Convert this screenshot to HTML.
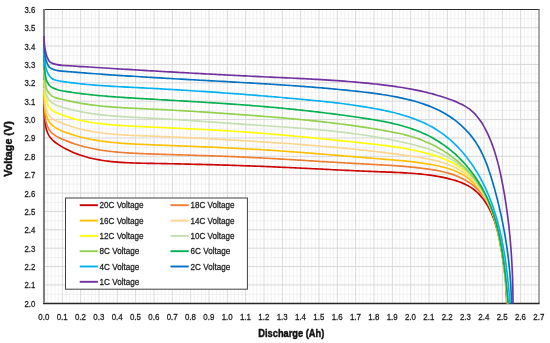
<!DOCTYPE html><html><head><meta charset="utf-8"><style>html,body{margin:0;padding:0;background:#fff;width:550px;height:343px;overflow:hidden}svg{display:block}text{font-family:"Liberation Sans", Arial, sans-serif;fill:#1c1c1c}text.l{stroke:#1c1c1c;stroke-width:0.3px}text.b{stroke:#111;stroke-width:0.45px;fill:#111}</style></head><body>
<svg width="550" height="343" viewBox="0 0 550 343">
<rect width="550" height="343" fill="#fff"/>
<path d="M47.67,9.50V303.50M51.33,9.50V303.50M55.00,9.50V303.50M58.67,9.50V303.50M66.00,9.50V303.50M69.67,9.50V303.50M73.33,9.50V303.50M77.00,9.50V303.50M84.33,9.50V303.50M88.00,9.50V303.50M91.67,9.50V303.50M95.33,9.50V303.50M102.67,9.50V303.50M106.33,9.50V303.50M110.00,9.50V303.50M113.67,9.50V303.50M121.00,9.50V303.50M124.67,9.50V303.50M128.33,9.50V303.50M132.00,9.50V303.50M139.33,9.50V303.50M143.00,9.50V303.50M146.67,9.50V303.50M150.33,9.50V303.50M157.67,9.50V303.50M161.33,9.50V303.50M165.00,9.50V303.50M168.67,9.50V303.50M176.00,9.50V303.50M179.67,9.50V303.50M183.33,9.50V303.50M187.00,9.50V303.50M194.33,9.50V303.50M198.00,9.50V303.50M201.67,9.50V303.50M205.33,9.50V303.50M212.67,9.50V303.50M216.33,9.50V303.50M220.00,9.50V303.50M223.67,9.50V303.50M231.00,9.50V303.50M234.67,9.50V303.50M238.33,9.50V303.50M242.00,9.50V303.50M249.33,9.50V303.50M253.00,9.50V303.50M256.67,9.50V303.50M260.33,9.50V303.50M267.67,9.50V303.50M271.33,9.50V303.50M275.00,9.50V303.50M278.67,9.50V303.50M286.00,9.50V303.50M289.67,9.50V303.50M293.33,9.50V303.50M297.00,9.50V303.50M304.33,9.50V303.50M308.00,9.50V303.50M311.67,9.50V303.50M315.33,9.50V303.50M322.67,9.50V303.50M326.33,9.50V303.50M330.00,9.50V303.50M333.67,9.50V303.50M341.00,9.50V303.50M344.67,9.50V303.50M348.33,9.50V303.50M352.00,9.50V303.50M359.33,9.50V303.50M363.00,9.50V303.50M366.67,9.50V303.50M370.33,9.50V303.50M377.67,9.50V303.50M381.33,9.50V303.50M385.00,9.50V303.50M388.67,9.50V303.50M396.00,9.50V303.50M399.67,9.50V303.50M403.33,9.50V303.50M407.00,9.50V303.50M414.33,9.50V303.50M418.00,9.50V303.50M421.67,9.50V303.50M425.33,9.50V303.50M432.67,9.50V303.50M436.33,9.50V303.50M440.00,9.50V303.50M443.67,9.50V303.50M451.00,9.50V303.50M454.67,9.50V303.50M458.33,9.50V303.50M462.00,9.50V303.50M469.33,9.50V303.50M473.00,9.50V303.50M476.67,9.50V303.50M480.33,9.50V303.50M487.67,9.50V303.50M491.33,9.50V303.50M495.00,9.50V303.50M498.67,9.50V303.50M506.00,9.50V303.50M509.67,9.50V303.50M513.33,9.50V303.50M517.00,9.50V303.50M524.33,9.50V303.50M528.00,9.50V303.50M531.67,9.50V303.50M535.33,9.50V303.50M44.00,18.69H539.00M44.00,37.06H539.00M44.00,55.44H539.00M44.00,73.81H539.00M44.00,92.19H539.00M44.00,110.56H539.00M44.00,128.94H539.00M44.00,147.31H539.00M44.00,165.69H539.00M44.00,184.06H539.00M44.00,202.44H539.00M44.00,220.81H539.00M44.00,239.19H539.00M44.00,257.56H539.00M44.00,275.94H539.00M44.00,294.31H539.00" stroke="#F1F1F1" stroke-width="1" fill="none"/>
<path d="M62.33,9.50V303.50M80.67,9.50V303.50M99.00,9.50V303.50M117.33,9.50V303.50M135.67,9.50V303.50M154.00,9.50V303.50M172.33,9.50V303.50M190.67,9.50V303.50M209.00,9.50V303.50M227.33,9.50V303.50M245.67,9.50V303.50M264.00,9.50V303.50M282.33,9.50V303.50M300.67,9.50V303.50M319.00,9.50V303.50M337.33,9.50V303.50M355.67,9.50V303.50M374.00,9.50V303.50M392.33,9.50V303.50M410.67,9.50V303.50M429.00,9.50V303.50M447.33,9.50V303.50M465.67,9.50V303.50M484.00,9.50V303.50M502.33,9.50V303.50M520.67,9.50V303.50M44.00,27.68H539.00M44.00,46.05H539.00M44.00,64.42H539.00M44.00,82.80H539.00M44.00,101.17H539.00M44.00,119.55H539.00M44.00,137.93H539.00M44.00,156.30H539.00M44.00,174.68H539.00M44.00,193.05H539.00M44.00,211.43H539.00M44.00,229.80H539.00M44.00,248.18H539.00M44.00,266.55H539.00M44.00,284.93H539.00" stroke="#D8D8D8" stroke-width="1" fill="none"/>
<path d="M44.00,9.50H539.60" stroke="#303030" stroke-width="1.2" fill="none"/>
<path d="M539.00,9.50V303.50" stroke="#7a7a7a" stroke-width="1.3" fill="none"/>
<path d="M43.00,303.50H539.60" stroke="#262626" stroke-width="1.6" fill="none"/>
<path d="M44.00,8.90V302.70" stroke="#808080" stroke-width="2.1" fill="none"/>
<path d="M44.00,104.00 C44.07,105.33 44.25,109.50 44.40,112.00 C44.55,114.50 44.72,116.83 44.90,119.00 C45.08,121.17 45.23,123.20 45.50,125.00 C45.77,126.80 46.10,128.38 46.50,129.80 C46.90,131.22 47.38,132.37 47.90,133.50 C48.42,134.63 48.95,135.65 49.60,136.60 C50.25,137.55 51.03,138.38 51.80,139.20 C52.57,140.02 53.33,140.77 54.20,141.50 C55.07,142.23 56.03,142.92 57.00,143.60 C57.97,144.28 59.00,144.97 60.00,145.60 C61.00,146.23 61.99,146.81 63.00,147.38 C64.00,147.96 65.02,148.51 66.03,149.04 C67.05,149.57 68.07,150.08 69.10,150.57 C70.13,151.06 71.16,151.53 72.20,151.98 C73.24,152.44 74.28,152.87 75.33,153.28 C76.38,153.70 77.43,154.10 78.49,154.48 C79.55,154.86 80.61,155.22 81.68,155.57 C82.75,155.92 83.82,156.25 84.89,156.56 C85.97,156.88 87.05,157.18 88.13,157.46 C89.22,157.75 90.30,158.02 91.39,158.28 C92.48,158.53 93.58,158.78 94.68,159.01 C95.78,159.24 96.88,159.45 97.98,159.66 C99.09,159.86 100.19,160.05 101.31,160.23 C102.42,160.41 103.53,160.58 104.65,160.74 C105.76,160.90 106.88,161.05 108.00,161.19 C109.12,161.33 110.25,161.45 111.37,161.57 C112.50,161.69 113.63,161.80 114.76,161.91 C115.89,162.01 117.02,162.10 118.16,162.19 C119.29,162.28 120.43,162.36 121.56,162.43 C122.70,162.50 123.84,162.57 124.98,162.63 C126.12,162.69 127.26,162.74 128.40,162.79 C129.55,162.84 130.69,162.89 131.83,162.93 C132.98,162.97 134.12,163.01 135.27,163.04 C136.41,163.08 137.56,163.11 138.70,163.13 C139.85,163.16 141.00,163.19 142.14,163.21 C143.29,163.24 144.44,163.26 145.58,163.28 C146.73,163.30 147.87,163.32 149.02,163.34 C150.17,163.36 151.31,163.38 152.46,163.40 C153.60,163.42 154.74,163.44 155.89,163.46 C157.03,163.49 158.17,163.51 159.32,163.53 C160.46,163.55 161.60,163.57 162.74,163.59 C163.89,163.62 165.03,163.64 166.17,163.66 C167.31,163.68 168.45,163.70 169.59,163.73 C170.73,163.75 171.87,163.77 173.01,163.80 C174.15,163.82 175.29,163.84 176.43,163.87 C177.57,163.89 178.71,163.92 179.84,163.94 C180.98,163.97 182.12,163.99 183.26,164.02 C184.39,164.04 185.53,164.07 186.67,164.09 C187.80,164.12 188.94,164.14 190.08,164.17 C191.21,164.20 192.35,164.22 193.48,164.25 C194.62,164.28 195.76,164.31 196.89,164.33 C198.03,164.36 199.16,164.39 200.30,164.42 C201.43,164.45 202.56,164.47 203.70,164.50 C204.83,164.53 205.97,164.56 207.10,164.59 C208.23,164.62 209.37,164.65 210.50,164.68 C211.64,164.71 212.77,164.74 213.90,164.78 C215.04,164.81 216.17,164.84 217.30,164.87 C218.43,164.90 219.57,164.94 220.70,164.97 C221.83,165.00 222.96,165.04 224.10,165.07 C225.23,165.10 226.36,165.14 227.49,165.17 C228.63,165.21 229.76,165.24 230.89,165.28 C232.02,165.32 233.16,165.35 234.29,165.39 C235.42,165.42 236.55,165.46 237.68,165.50 C238.82,165.54 239.95,165.58 241.08,165.61 C242.21,165.65 243.34,165.69 244.48,165.73 C245.61,165.77 246.74,165.81 247.87,165.85 C249.00,165.89 250.14,165.93 251.27,165.97 C252.40,166.02 253.53,166.06 254.66,166.10 C255.80,166.14 256.93,166.19 258.06,166.23 C259.19,166.27 260.33,166.32 261.46,166.36 C262.59,166.41 263.73,166.45 264.86,166.50 C265.99,166.55 267.12,166.59 268.26,166.64 C269.39,166.69 270.52,166.74 271.66,166.78 C272.79,166.83 273.93,166.88 275.06,166.93 C276.19,166.98 277.33,167.03 278.46,167.08 C279.60,167.13 280.73,167.18 281.86,167.23 C283.00,167.28 284.13,167.34 285.27,167.39 C286.40,167.44 287.54,167.49 288.67,167.55 C289.81,167.60 290.94,167.65 292.08,167.71 C293.21,167.76 294.35,167.81 295.48,167.87 C296.62,167.92 297.75,167.98 298.89,168.03 C300.03,168.09 301.16,168.14 302.30,168.20 C303.43,168.25 304.57,168.31 305.70,168.36 C306.84,168.42 307.98,168.47 309.11,168.53 C310.25,168.59 311.38,168.64 312.52,168.70 C313.66,168.75 314.79,168.81 315.93,168.87 C317.06,168.92 318.20,168.98 319.34,169.03 C320.47,169.09 321.61,169.15 322.75,169.20 C323.88,169.26 325.02,169.31 326.15,169.37 C327.29,169.43 328.43,169.48 329.56,169.54 C330.70,169.59 331.84,169.65 332.97,169.70 C334.11,169.76 335.24,169.82 336.38,169.87 C337.52,169.93 338.65,169.98 339.79,170.03 C340.92,170.09 342.06,170.14 343.20,170.20 C344.33,170.25 345.47,170.30 346.61,170.36 C347.74,170.41 348.88,170.46 350.01,170.52 C351.15,170.57 352.29,170.62 353.42,170.67 C354.56,170.73 355.69,170.78 356.83,170.83 C357.96,170.88 359.10,170.93 360.23,170.98 C361.37,171.03 362.51,171.08 363.64,171.13 C364.78,171.18 365.91,171.22 367.05,171.27 C368.18,171.32 369.32,171.37 370.45,171.41 C371.59,171.46 372.72,171.51 373.86,171.55 C374.99,171.60 376.12,171.64 377.26,171.68 C378.39,171.73 379.53,171.77 380.66,171.81 C381.80,171.86 382.93,171.90 384.06,171.94 C385.20,171.98 386.33,172.02 387.46,172.06 C388.60,172.11 389.73,172.15 390.86,172.19 C392.00,172.24 393.13,172.28 394.26,172.33 C395.40,172.38 396.53,172.43 397.66,172.48 C398.79,172.53 399.92,172.58 401.06,172.64 C402.19,172.70 403.32,172.76 404.45,172.82 C405.58,172.89 406.71,172.95 407.84,173.03 C408.97,173.10 410.10,173.18 411.23,173.26 C412.36,173.34 413.49,173.43 414.62,173.52 C415.75,173.61 416.88,173.71 418.01,173.81 C419.14,173.92 420.27,174.02 421.40,174.14 C422.52,174.26 423.65,174.38 424.78,174.51 C425.91,174.65 427.03,174.78 428.16,174.93 C429.29,175.08 430.41,175.23 431.54,175.40 C432.66,175.56 433.79,175.73 434.92,175.91 C436.04,176.10 437.16,176.29 438.29,176.49 C439.41,176.69 440.54,176.90 441.66,177.12 C442.78,177.34 443.91,177.58 445.03,177.82 C446.15,178.06 447.27,178.32 448.39,178.59 C449.51,178.86 450.62,179.14 451.73,179.44 C452.84,179.74 453.95,180.05 455.04,180.38 C456.14,180.72 457.22,181.07 458.30,181.45 C459.37,181.82 460.44,182.22 461.49,182.64 C462.54,183.06 463.58,183.51 464.59,183.98 C465.61,184.45 466.62,184.95 467.60,185.48 C468.58,186.01 469.55,186.56 470.49,187.15 C471.43,187.74 472.36,188.37 473.25,189.02 C474.15,189.68 475.02,190.37 475.87,191.10 C476.71,191.83 477.53,192.59 478.32,193.38 C479.12,194.17 479.89,195.00 480.63,195.85 C481.37,196.69 482.09,197.57 482.79,198.47 C483.48,199.37 484.15,200.30 484.80,201.24 C485.44,202.18 486.07,203.15 486.66,204.12 C487.26,205.10 487.84,206.10 488.39,207.10 C488.94,208.11 489.47,209.13 489.98,210.15 C490.49,211.18 490.97,212.21 491.44,213.25 C491.90,214.29 492.34,215.34 492.77,216.40 C493.19,217.46 493.60,218.52 493.98,219.59 C494.37,220.66 494.74,221.73 495.09,222.81 C495.45,223.89 495.78,224.98 496.10,226.07 C496.43,227.16 496.73,228.25 497.03,229.35 C497.32,230.45 497.60,231.55 497.87,232.65 C498.14,233.76 498.40,234.87 498.65,235.98 C498.90,237.09 499.14,238.20 499.37,239.32 C499.60,240.43 499.82,241.55 500.04,242.67 C500.25,243.78 500.46,244.90 500.66,246.02 C500.87,247.14 501.06,248.26 501.26,249.38 C501.45,250.50 501.64,251.61 501.83,252.73 C502.01,253.85 502.19,254.97 502.37,256.09 C502.55,257.21 502.72,258.32 502.88,259.44 C503.05,260.56 503.21,261.68 503.37,262.80 C503.53,263.92 503.68,265.04 503.83,266.16 C503.98,267.28 504.12,268.40 504.25,269.52 C504.39,270.64 504.52,271.77 504.65,272.89 C504.78,274.01 504.90,275.14 505.02,276.26 C505.13,277.39 505.24,278.51 505.35,279.64 C505.45,280.76 505.55,281.89 505.65,283.02 C505.74,284.15 505.83,285.28 505.91,286.41 C505.99,287.54 506.07,288.68 506.14,289.81 C506.21,290.94 506.28,292.08 506.34,293.22 C506.40,294.36 506.45,295.49 506.50,296.63 C506.54,297.78 506.58,298.92 506.62,300.06 C506.65,301.21 506.69,302.93 506.70,303.50" stroke="#CC0000" stroke-width="1.65" fill="none" stroke-linejoin="round"/>
<path d="M44.00,98.00 C44.08,99.67 44.32,105.00 44.50,108.00 C44.68,111.00 44.87,113.75 45.10,116.00 C45.33,118.25 45.55,119.92 45.90,121.50 C46.25,123.08 46.72,124.28 47.20,125.50 C47.68,126.72 48.23,127.82 48.80,128.80 C49.37,129.78 49.93,130.58 50.60,131.40 C51.27,132.22 52.02,133.00 52.80,133.70 C53.58,134.40 54.43,135.03 55.30,135.60 C56.17,136.17 57.10,136.63 58.00,137.10 C58.90,137.57 59.72,137.94 60.70,138.40 C61.68,138.85 62.82,139.36 63.89,139.82 C64.95,140.27 66.02,140.72 67.09,141.14 C68.16,141.57 69.24,141.98 70.31,142.38 C71.39,142.77 72.47,143.15 73.56,143.52 C74.64,143.89 75.73,144.24 76.81,144.59 C77.90,144.93 79.00,145.25 80.09,145.57 C81.18,145.88 82.28,146.18 83.38,146.47 C84.48,146.76 85.58,147.04 86.69,147.30 C87.79,147.57 88.90,147.82 90.01,148.06 C91.12,148.31 92.23,148.54 93.34,148.76 C94.45,148.98 95.57,149.19 96.69,149.39 C97.80,149.59 98.92,149.78 100.04,149.97 C101.16,150.15 102.29,150.32 103.41,150.49 C104.53,150.65 105.66,150.80 106.79,150.95 C107.92,151.10 109.04,151.24 110.17,151.37 C111.30,151.50 112.44,151.63 113.57,151.75 C114.70,151.86 115.84,151.97 116.97,152.08 C118.11,152.18 119.24,152.28 120.38,152.37 C121.52,152.47 122.66,152.55 123.80,152.64 C124.94,152.72 126.08,152.79 127.22,152.87 C128.36,152.94 129.50,153.01 130.64,153.07 C131.78,153.14 132.93,153.20 134.07,153.25 C135.21,153.31 136.36,153.36 137.50,153.42 C138.64,153.47 139.79,153.52 140.93,153.56 C142.08,153.61 143.22,153.65 144.37,153.70 C145.51,153.74 146.66,153.78 147.80,153.82 C148.95,153.86 150.09,153.90 151.24,153.94 C152.38,153.98 153.52,154.02 154.67,154.06 C155.81,154.10 156.96,154.14 158.10,154.18 C159.24,154.21 160.39,154.25 161.53,154.29 C162.67,154.33 163.82,154.36 164.96,154.40 C166.10,154.44 167.25,154.47 168.39,154.51 C169.53,154.55 170.67,154.58 171.82,154.62 C172.96,154.65 174.10,154.69 175.24,154.72 C176.39,154.76 177.53,154.80 178.67,154.83 C179.81,154.87 180.95,154.90 182.10,154.94 C183.24,154.97 184.38,155.01 185.52,155.04 C186.66,155.08 187.80,155.11 188.95,155.15 C190.09,155.19 191.23,155.22 192.37,155.26 C193.51,155.29 194.65,155.33 195.79,155.36 C196.93,155.40 198.07,155.44 199.21,155.47 C200.36,155.51 201.50,155.55 202.64,155.58 C203.78,155.62 204.92,155.66 206.06,155.69 C207.20,155.73 208.34,155.77 209.48,155.81 C210.62,155.85 211.76,155.88 212.90,155.92 C214.04,155.96 215.18,156.00 216.32,156.04 C217.46,156.08 218.60,156.12 219.74,156.16 C220.88,156.20 222.02,156.24 223.16,156.29 C224.30,156.33 225.44,156.37 226.58,156.41 C227.72,156.46 228.86,156.50 230.00,156.54 C231.14,156.59 232.28,156.63 233.42,156.68 C234.56,156.72 235.70,156.77 236.84,156.82 C237.98,156.86 239.12,156.91 240.26,156.96 C241.40,157.01 242.54,157.06 243.68,157.11 C244.81,157.16 245.95,157.21 247.09,157.26 C248.23,157.31 249.37,157.37 250.51,157.42 C251.65,157.48 252.79,157.53 253.93,157.59 C255.07,157.64 256.21,157.70 257.35,157.76 C258.49,157.81 259.63,157.87 260.77,157.93 C261.91,157.99 263.05,158.05 264.19,158.11 C265.33,158.17 266.47,158.23 267.61,158.29 C268.75,158.35 269.89,158.42 271.03,158.48 C272.17,158.54 273.31,158.61 274.45,158.67 C275.59,158.73 276.73,158.80 277.87,158.86 C279.01,158.93 280.15,159.00 281.29,159.06 C282.43,159.13 283.57,159.19 284.71,159.26 C285.85,159.33 286.99,159.40 288.13,159.46 C289.27,159.53 290.41,159.60 291.54,159.67 C292.68,159.74 293.82,159.81 294.96,159.88 C296.10,159.95 297.24,160.01 298.38,160.08 C299.52,160.15 300.67,160.22 301.81,160.29 C302.95,160.36 304.09,160.43 305.23,160.50 C306.37,160.57 307.51,160.64 308.65,160.72 C309.79,160.79 310.93,160.86 312.07,160.93 C313.21,161.00 314.35,161.07 315.49,161.14 C316.63,161.21 317.77,161.28 318.91,161.35 C320.05,161.42 321.19,161.49 322.33,161.56 C323.47,161.63 324.61,161.70 325.75,161.77 C326.89,161.84 328.03,161.91 329.17,161.98 C330.31,162.05 331.45,162.12 332.59,162.18 C333.73,162.25 334.87,162.32 336.01,162.39 C337.15,162.46 338.30,162.52 339.44,162.59 C340.58,162.66 341.72,162.73 342.86,162.79 C344.00,162.86 345.14,162.92 346.28,162.99 C347.42,163.05 348.56,163.12 349.70,163.18 C350.84,163.25 351.98,163.31 353.12,163.37 C354.27,163.44 355.41,163.50 356.55,163.56 C357.69,163.62 358.83,163.68 359.97,163.74 C361.11,163.81 362.25,163.86 363.39,163.92 C364.53,163.98 365.68,164.04 366.82,164.10 C367.96,164.16 369.10,164.22 370.24,164.28 C371.38,164.34 372.52,164.40 373.66,164.46 C374.80,164.52 375.94,164.58 377.08,164.64 C378.22,164.70 379.36,164.76 380.50,164.82 C381.64,164.89 382.79,164.95 383.92,165.02 C385.06,165.08 386.20,165.15 387.34,165.22 C388.48,165.29 389.62,165.36 390.76,165.44 C391.90,165.51 393.04,165.59 394.18,165.67 C395.32,165.75 396.45,165.83 397.59,165.91 C398.73,165.99 399.87,166.08 401.01,166.17 C402.14,166.26 403.28,166.36 404.42,166.45 C405.55,166.55 406.69,166.65 407.82,166.75 C408.96,166.86 410.09,166.97 411.23,167.08 C412.36,167.19 413.50,167.31 414.63,167.43 C415.77,167.55 416.90,167.68 418.03,167.81 C419.17,167.94 420.30,168.07 421.43,168.21 C422.56,168.35 423.69,168.50 424.82,168.65 C425.95,168.80 427.09,168.96 428.21,169.12 C429.34,169.29 430.47,169.45 431.60,169.63 C432.73,169.80 433.86,169.99 434.98,170.18 C436.11,170.37 437.23,170.57 438.35,170.79 C439.47,171.00 440.59,171.22 441.70,171.47 C442.81,171.71 443.93,171.96 445.03,172.24 C446.13,172.51 447.24,172.80 448.33,173.11 C449.43,173.42 450.52,173.75 451.60,174.10 C452.68,174.45 453.76,174.82 454.83,175.22 C455.89,175.62 456.96,176.04 458.01,176.49 C459.06,176.94 460.10,177.41 461.13,177.91 C462.16,178.41 463.18,178.94 464.19,179.49 C465.19,180.04 466.19,180.62 467.16,181.22 C468.14,181.82 469.10,182.45 470.04,183.10 C470.98,183.76 471.91,184.44 472.81,185.14 C473.71,185.85 474.59,186.58 475.45,187.33 C476.31,188.08 477.14,188.86 477.95,189.66 C478.76,190.46 479.54,191.29 480.30,192.13 C481.05,192.98 481.78,193.85 482.49,194.73 C483.19,195.62 483.87,196.53 484.52,197.45 C485.17,198.37 485.80,199.31 486.40,200.27 C487.00,201.23 487.57,202.20 488.12,203.19 C488.67,204.17 489.19,205.17 489.69,206.18 C490.19,207.19 490.67,208.22 491.12,209.26 C491.58,210.29 492.01,211.34 492.42,212.39 C492.84,213.45 493.23,214.52 493.60,215.59 C493.98,216.67 494.34,217.75 494.68,218.84 C495.02,219.93 495.34,221.03 495.65,222.14 C495.97,223.24 496.26,224.36 496.55,225.47 C496.83,226.59 497.10,227.71 497.36,228.83 C497.62,229.96 497.87,231.09 498.12,232.22 C498.36,233.35 498.59,234.48 498.82,235.61 C499.05,236.75 499.27,237.88 499.48,239.02 C499.70,240.15 499.91,241.29 500.11,242.42 C500.32,243.55 500.53,244.69 500.73,245.82 C500.93,246.95 501.13,248.07 501.33,249.20 C501.53,250.33 501.72,251.45 501.91,252.58 C502.11,253.70 502.30,254.82 502.48,255.95 C502.67,257.07 502.85,258.19 503.03,259.31 C503.21,260.43 503.38,261.55 503.55,262.67 C503.73,263.79 503.89,264.91 504.06,266.03 C504.22,267.15 504.38,268.27 504.53,269.39 C504.69,270.51 504.83,271.63 504.98,272.76 C505.12,273.88 505.26,275.00 505.40,276.13 C505.53,277.25 505.66,278.37 505.78,279.50 C505.90,280.63 506.02,281.76 506.13,282.89 C506.24,284.02 506.35,285.15 506.45,286.28 C506.54,287.42 506.64,288.55 506.72,289.69 C506.81,290.83 506.89,291.97 506.96,293.12 C507.03,294.26 507.09,295.41 507.15,296.56 C507.21,297.71 507.26,298.86 507.30,300.02 C507.34,301.18 507.38,302.92 507.40,303.50" stroke="#ED7D31" stroke-width="1.65" fill="none" stroke-linejoin="round"/>
<path d="M44.00,92.00 C44.07,93.33 44.27,97.22 44.40,100.00 C44.53,102.78 44.60,106.53 44.80,108.70 C45.00,110.87 45.28,111.75 45.60,113.00 C45.92,114.25 46.22,114.98 46.70,116.20 C47.18,117.42 47.95,119.22 48.50,120.30 C49.05,121.38 49.47,121.98 50.00,122.70 C50.53,123.42 51.03,123.95 51.70,124.60 C52.37,125.25 53.20,125.98 54.00,126.60 C54.80,127.22 55.38,127.67 56.50,128.30 C57.62,128.93 59.46,129.84 60.70,130.40 C61.94,130.97 62.86,131.28 63.94,131.69 C65.02,132.11 66.11,132.51 67.19,132.90 C68.28,133.29 69.37,133.66 70.47,134.02 C71.56,134.38 72.66,134.73 73.76,135.06 C74.85,135.40 75.96,135.72 77.06,136.03 C78.16,136.34 79.27,136.64 80.38,136.93 C81.49,137.21 82.60,137.49 83.71,137.75 C84.82,138.01 85.94,138.27 87.06,138.51 C88.17,138.75 89.29,138.98 90.41,139.21 C91.53,139.43 92.66,139.64 93.78,139.84 C94.91,140.04 96.03,140.24 97.16,140.42 C98.29,140.61 99.42,140.78 100.55,140.95 C101.69,141.12 102.82,141.28 103.95,141.43 C105.09,141.58 106.22,141.72 107.36,141.86 C108.50,142.00 109.64,142.13 110.78,142.25 C111.92,142.37 113.06,142.49 114.20,142.60 C115.34,142.71 116.49,142.82 117.63,142.92 C118.78,143.01 119.92,143.11 121.07,143.20 C122.21,143.29 123.36,143.37 124.51,143.45 C125.66,143.53 126.80,143.60 127.95,143.68 C129.10,143.75 130.25,143.81 131.40,143.88 C132.55,143.94 133.70,144.00 134.85,144.06 C136.00,144.12 137.15,144.18 138.31,144.23 C139.46,144.29 140.61,144.34 141.76,144.39 C142.91,144.44 144.06,144.49 145.22,144.53 C146.37,144.58 147.52,144.63 148.67,144.67 C149.82,144.72 150.98,144.77 152.13,144.81 C153.28,144.86 154.43,144.90 155.58,144.95 C156.73,144.99 157.88,145.04 159.03,145.08 C160.18,145.13 161.33,145.17 162.48,145.22 C163.63,145.26 164.78,145.31 165.93,145.35 C167.08,145.40 168.23,145.44 169.38,145.49 C170.53,145.53 171.68,145.58 172.83,145.62 C173.98,145.66 175.13,145.71 176.28,145.75 C177.43,145.80 178.58,145.84 179.73,145.89 C180.88,145.93 182.02,145.98 183.17,146.02 C184.32,146.07 185.47,146.11 186.62,146.16 C187.77,146.20 188.91,146.25 190.06,146.29 C191.21,146.34 192.36,146.39 193.51,146.43 C194.65,146.48 195.80,146.52 196.95,146.57 C198.10,146.62 199.25,146.66 200.39,146.71 C201.54,146.76 202.69,146.80 203.83,146.85 C204.98,146.90 206.13,146.95 207.28,147.00 C208.42,147.04 209.57,147.09 210.72,147.14 C211.86,147.19 213.01,147.24 214.16,147.29 C215.30,147.34 216.45,147.39 217.60,147.44 C218.74,147.49 219.89,147.54 221.04,147.60 C222.18,147.65 223.33,147.70 224.48,147.75 C225.62,147.81 226.77,147.86 227.92,147.91 C229.06,147.97 230.21,148.02 231.35,148.08 C232.50,148.13 233.65,148.19 234.79,148.24 C235.94,148.30 237.08,148.36 238.23,148.42 C239.38,148.47 240.52,148.53 241.67,148.59 C242.81,148.65 243.96,148.71 245.11,148.77 C246.25,148.83 247.40,148.89 248.54,148.96 C249.69,149.02 250.84,149.08 251.98,149.14 C253.13,149.21 254.27,149.27 255.42,149.34 C256.57,149.40 257.71,149.47 258.86,149.54 C260.00,149.60 261.15,149.67 262.29,149.74 C263.44,149.81 264.59,149.88 265.73,149.95 C266.88,150.02 268.02,150.10 269.17,150.17 C270.32,150.24 271.46,150.31 272.61,150.39 C273.75,150.46 274.90,150.54 276.05,150.62 C277.19,150.69 278.34,150.77 279.48,150.85 C280.63,150.93 281.77,151.01 282.92,151.09 C284.07,151.17 285.21,151.25 286.36,151.33 C287.51,151.42 288.65,151.50 289.80,151.58 C290.94,151.67 292.09,151.75 293.24,151.83 C294.38,151.92 295.53,152.01 296.67,152.09 C297.82,152.18 298.97,152.26 300.11,152.35 C301.26,152.44 302.40,152.53 303.55,152.62 C304.70,152.71 305.84,152.80 306.99,152.89 C308.13,152.98 309.28,153.07 310.42,153.16 C311.57,153.25 312.72,153.34 313.86,153.43 C315.01,153.52 316.15,153.61 317.30,153.71 C318.45,153.80 319.59,153.89 320.74,153.99 C321.88,154.08 323.03,154.17 324.17,154.27 C325.32,154.36 326.47,154.45 327.61,154.55 C328.76,154.64 329.90,154.74 331.05,154.83 C332.19,154.93 333.34,155.02 334.48,155.12 C335.63,155.21 336.78,155.31 337.92,155.40 C339.07,155.50 340.21,155.59 341.36,155.69 C342.50,155.79 343.65,155.88 344.79,155.98 C345.94,156.07 347.08,156.17 348.23,156.26 C349.37,156.36 350.52,156.45 351.66,156.55 C352.81,156.65 353.95,156.74 355.10,156.84 C356.24,156.93 357.39,157.03 358.53,157.12 C359.67,157.22 360.82,157.31 361.96,157.41 C363.11,157.50 364.25,157.60 365.40,157.69 C366.54,157.78 367.69,157.88 368.83,157.97 C369.97,158.06 371.12,158.16 372.26,158.25 C373.41,158.34 374.55,158.44 375.69,158.53 C376.84,158.62 377.98,158.71 379.12,158.80 C380.27,158.89 381.41,158.98 382.55,159.08 C383.70,159.17 384.84,159.26 385.98,159.35 C387.13,159.44 388.27,159.53 389.41,159.62 C390.56,159.72 391.70,159.81 392.84,159.91 C393.98,160.00 395.13,160.10 396.27,160.20 C397.41,160.30 398.55,160.40 399.69,160.50 C400.83,160.61 401.97,160.72 403.12,160.83 C404.26,160.94 405.40,161.05 406.54,161.17 C407.68,161.29 408.82,161.41 409.96,161.54 C411.10,161.66 412.24,161.79 413.38,161.93 C414.51,162.07 415.65,162.21 416.79,162.36 C417.93,162.50 419.07,162.65 420.20,162.81 C421.34,162.97 422.48,163.14 423.62,163.31 C424.75,163.48 425.89,163.66 427.02,163.85 C428.16,164.03 429.29,164.23 430.43,164.43 C431.56,164.63 432.70,164.84 433.83,165.06 C434.96,165.27 436.10,165.50 437.23,165.74 C438.36,165.97 439.49,166.22 440.62,166.48 C441.74,166.74 442.86,167.01 443.98,167.30 C445.10,167.59 446.21,167.90 447.31,168.22 C448.41,168.55 449.51,168.89 450.59,169.25 C451.67,169.62 452.75,170.01 453.81,170.42 C454.87,170.83 455.92,171.26 456.96,171.73 C457.99,172.19 459.01,172.68 460.02,173.20 C461.02,173.73 462.01,174.28 462.99,174.86 C463.96,175.44 464.91,176.05 465.85,176.69 C466.78,177.33 467.70,178.00 468.60,178.69 C469.50,179.38 470.38,180.10 471.25,180.84 C472.11,181.59 472.95,182.35 473.77,183.14 C474.60,183.93 475.40,184.75 476.18,185.58 C476.96,186.41 477.73,187.26 478.47,188.14 C479.21,189.01 479.93,189.90 480.62,190.80 C481.32,191.71 482.00,192.64 482.65,193.58 C483.30,194.51 483.93,195.47 484.54,196.44 C485.15,197.41 485.73,198.39 486.30,199.38 C486.86,200.38 487.40,201.38 487.93,202.40 C488.45,203.42 488.95,204.45 489.44,205.49 C489.92,206.53 490.39,207.58 490.83,208.64 C491.28,209.70 491.71,210.77 492.12,211.85 C492.54,212.92 492.94,214.01 493.32,215.10 C493.70,216.19 494.07,217.29 494.42,218.40 C494.77,219.51 495.11,220.62 495.44,221.73 C495.77,222.85 496.08,223.97 496.38,225.10 C496.69,226.22 496.98,227.35 497.26,228.49 C497.54,229.62 497.81,230.75 498.07,231.89 C498.33,233.03 498.58,234.17 498.83,235.31 C499.07,236.45 499.31,237.59 499.54,238.73 C499.77,239.87 499.99,241.01 500.21,242.14 C500.43,243.28 500.64,244.42 500.85,245.55 C501.06,246.68 501.26,247.82 501.46,248.95 C501.66,250.08 501.86,251.20 502.05,252.33 C502.24,253.46 502.42,254.59 502.60,255.71 C502.78,256.84 502.96,257.96 503.13,259.08 C503.30,260.21 503.47,261.33 503.63,262.46 C503.80,263.58 503.95,264.70 504.11,265.83 C504.26,266.95 504.41,268.07 504.56,269.20 C504.70,270.32 504.84,271.45 504.98,272.57 C505.11,273.70 505.24,274.83 505.37,275.95 C505.50,277.08 505.62,278.21 505.74,279.34 C505.86,280.48 505.97,281.61 506.08,282.75 C506.19,283.88 506.30,285.02 506.40,286.16 C506.50,287.30 506.60,288.44 506.69,289.59 C506.78,290.73 506.87,291.88 506.96,293.03 C507.04,294.19 507.12,295.34 507.20,296.50 C507.27,297.66 507.34,298.82 507.41,299.99 C507.48,301.15 507.57,302.91 507.60,303.50" stroke="#FFC000" stroke-width="1.65" fill="none" stroke-linejoin="round"/>
<path d="M44.00,88.00 C44.08,89.50 44.30,94.33 44.50,97.00 C44.70,99.67 44.95,102.08 45.20,104.00 C45.45,105.92 45.67,107.17 46.00,108.50 C46.33,109.83 46.78,111.00 47.20,112.00 C47.62,113.00 48.03,113.75 48.50,114.50 C48.97,115.25 49.47,115.88 50.00,116.50 C50.53,117.12 51.03,117.65 51.70,118.20 C52.37,118.75 53.12,119.30 54.00,119.80 C54.88,120.30 56.00,120.78 57.00,121.20 C58.00,121.62 58.95,121.89 60.00,122.30 C61.05,122.70 62.18,123.19 63.27,123.62 C64.37,124.04 65.46,124.45 66.56,124.84 C67.66,125.24 68.76,125.62 69.86,125.98 C70.97,126.35 72.07,126.69 73.18,127.03 C74.29,127.37 75.40,127.69 76.52,128.00 C77.63,128.30 78.74,128.60 79.86,128.88 C80.98,129.17 82.10,129.44 83.22,129.69 C84.34,129.95 85.47,130.20 86.59,130.43 C87.72,130.67 88.85,130.89 89.98,131.11 C91.11,131.32 92.24,131.52 93.37,131.72 C94.50,131.91 95.64,132.09 96.78,132.27 C97.91,132.44 99.05,132.60 100.19,132.76 C101.33,132.92 102.47,133.06 103.61,133.20 C104.76,133.34 105.90,133.47 107.05,133.60 C108.19,133.72 109.34,133.84 110.48,133.95 C111.63,134.06 112.78,134.16 113.93,134.26 C115.08,134.35 116.23,134.44 117.38,134.53 C118.53,134.62 119.69,134.70 120.84,134.77 C121.99,134.85 123.15,134.92 124.30,134.98 C125.46,135.05 126.61,135.11 127.77,135.17 C128.93,135.23 130.08,135.29 131.24,135.34 C132.40,135.39 133.55,135.44 134.71,135.49 C135.87,135.54 137.03,135.59 138.19,135.63 C139.35,135.67 140.51,135.72 141.66,135.76 C142.82,135.80 143.98,135.84 145.14,135.88 C146.30,135.92 147.46,135.96 148.62,136.01 C149.78,136.05 150.94,136.09 152.10,136.13 C153.26,136.17 154.42,136.22 155.58,136.26 C156.73,136.31 157.89,136.35 159.05,136.40 C160.21,136.44 161.37,136.49 162.53,136.53 C163.69,136.58 164.84,136.63 166.00,136.68 C167.16,136.72 168.32,136.77 169.48,136.82 C170.63,136.87 171.79,136.92 172.95,136.97 C174.11,137.02 175.26,137.07 176.42,137.12 C177.58,137.18 178.74,137.23 179.89,137.28 C181.05,137.33 182.21,137.39 183.37,137.44 C184.52,137.49 185.68,137.55 186.84,137.60 C187.99,137.66 189.15,137.72 190.31,137.77 C191.46,137.83 192.62,137.89 193.78,137.94 C194.93,138.00 196.09,138.06 197.24,138.12 C198.40,138.17 199.56,138.23 200.71,138.29 C201.87,138.35 203.02,138.41 204.18,138.47 C205.34,138.53 206.49,138.59 207.65,138.66 C208.80,138.72 209.96,138.78 211.11,138.84 C212.27,138.90 213.42,138.97 214.58,139.03 C215.74,139.09 216.89,139.16 218.05,139.22 C219.20,139.29 220.36,139.35 221.51,139.42 C222.67,139.48 223.82,139.55 224.97,139.61 C226.13,139.68 227.28,139.74 228.44,139.81 C229.59,139.88 230.75,139.94 231.90,140.01 C233.06,140.08 234.21,140.15 235.36,140.22 C236.52,140.28 237.67,140.35 238.83,140.42 C239.98,140.49 241.13,140.56 242.29,140.63 C243.44,140.70 244.60,140.77 245.75,140.84 C246.90,140.91 248.06,140.98 249.21,141.05 C250.36,141.12 251.52,141.19 252.67,141.27 C253.82,141.34 254.98,141.41 256.13,141.48 C257.28,141.56 258.44,141.63 259.59,141.70 C260.74,141.77 261.90,141.85 263.05,141.92 C264.20,142.00 265.35,142.07 266.51,142.15 C267.66,142.22 268.81,142.30 269.97,142.37 C271.12,142.45 272.27,142.52 273.42,142.60 C274.58,142.68 275.73,142.75 276.88,142.83 C278.03,142.91 279.19,142.99 280.34,143.07 C281.49,143.15 282.64,143.23 283.79,143.31 C284.95,143.39 286.10,143.47 287.25,143.55 C288.40,143.63 289.55,143.71 290.71,143.80 C291.86,143.88 293.01,143.96 294.16,144.05 C295.31,144.13 296.47,144.21 297.62,144.30 C298.77,144.39 299.92,144.47 301.07,144.56 C302.22,144.65 303.38,144.73 304.53,144.82 C305.68,144.91 306.83,145.00 307.98,145.09 C309.13,145.18 310.29,145.27 311.44,145.36 C312.59,145.46 313.74,145.55 314.89,145.64 C316.04,145.74 317.19,145.83 318.34,145.93 C319.50,146.02 320.65,146.12 321.80,146.22 C322.95,146.31 324.10,146.41 325.25,146.51 C326.40,146.61 327.55,146.71 328.71,146.81 C329.86,146.91 331.01,147.01 332.16,147.12 C333.31,147.22 334.46,147.32 335.61,147.43 C336.76,147.54 337.91,147.64 339.06,147.75 C340.22,147.86 341.37,147.96 342.52,148.07 C343.67,148.18 344.82,148.29 345.97,148.41 C347.12,148.52 348.27,148.63 349.42,148.75 C350.57,148.86 351.72,148.98 352.88,149.09 C354.03,149.21 355.18,149.33 356.33,149.45 C357.48,149.57 358.63,149.69 359.78,149.81 C360.93,149.93 362.08,150.05 363.23,150.18 C364.38,150.30 365.53,150.43 366.69,150.55 C367.84,150.68 368.99,150.81 370.14,150.94 C371.29,151.07 372.44,151.20 373.59,151.33 C374.74,151.46 375.89,151.60 377.04,151.73 C378.19,151.87 379.34,152.00 380.50,152.14 C381.65,152.28 382.80,152.42 383.95,152.56 C385.10,152.70 386.25,152.84 387.40,152.99 C388.55,153.13 389.70,153.28 390.85,153.42 C392.00,153.57 393.16,153.72 394.31,153.87 C395.46,154.02 396.61,154.17 397.76,154.32 C398.91,154.48 400.06,154.63 401.21,154.79 C402.36,154.95 403.51,155.10 404.67,155.26 C405.82,155.42 406.97,155.59 408.12,155.75 C409.27,155.91 410.42,156.08 411.57,156.24 C412.72,156.41 413.87,156.58 415.02,156.75 C416.17,156.93 417.32,157.10 418.47,157.28 C419.62,157.47 420.77,157.65 421.91,157.85 C423.06,158.04 424.20,158.24 425.34,158.46 C426.48,158.67 427.62,158.88 428.75,159.11 C429.88,159.35 431.01,159.58 432.14,159.84 C433.27,160.09 434.39,160.35 435.51,160.63 C436.63,160.91 437.74,161.20 438.85,161.51 C439.96,161.82 441.06,162.14 442.16,162.48 C443.26,162.82 444.35,163.17 445.44,163.55 C446.52,163.92 447.60,164.32 448.67,164.73 C449.74,165.15 450.81,165.58 451.86,166.04 C452.91,166.49 453.96,166.97 454.98,167.47 C456.01,167.98 457.03,168.50 458.03,169.05 C459.03,169.60 460.02,170.17 460.99,170.78 C461.96,171.38 462.91,172.00 463.84,172.66 C464.77,173.32 465.69,174.00 466.58,174.71 C467.47,175.42 468.34,176.16 469.19,176.92 C470.04,177.69 470.87,178.48 471.68,179.29 C472.49,180.10 473.28,180.93 474.06,181.79 C474.83,182.64 475.58,183.52 476.31,184.41 C477.05,185.30 477.76,186.21 478.46,187.14 C479.16,188.07 479.84,189.02 480.50,189.97 C481.16,190.93 481.80,191.91 482.43,192.89 C483.05,193.87 483.66,194.87 484.25,195.88 C484.84,196.89 485.41,197.90 485.97,198.93 C486.53,199.95 487.06,200.99 487.59,202.02 C488.11,203.06 488.62,204.10 489.11,205.15 C489.60,206.20 490.07,207.26 490.53,208.32 C490.99,209.38 491.44,210.45 491.87,211.52 C492.30,212.59 492.72,213.66 493.12,214.74 C493.52,215.82 493.91,216.91 494.28,218.00 C494.66,219.09 495.02,220.18 495.37,221.28 C495.72,222.38 496.06,223.48 496.38,224.59 C496.71,225.69 497.02,226.80 497.32,227.92 C497.62,229.03 497.91,230.15 498.19,231.27 C498.47,232.39 498.74,233.51 499.00,234.64 C499.26,235.76 499.51,236.89 499.75,238.03 C499.99,239.16 500.22,240.29 500.44,241.43 C500.66,242.57 500.88,243.71 501.08,244.85 C501.29,245.99 501.48,247.14 501.67,248.28 C501.86,249.43 502.05,250.58 502.22,251.72 C502.40,252.87 502.57,254.03 502.73,255.18 C502.89,256.33 503.05,257.48 503.20,258.64 C503.35,259.79 503.49,260.95 503.63,262.10 C503.78,263.26 503.91,264.41 504.04,265.57 C504.17,266.73 504.30,267.89 504.42,269.04 C504.55,270.20 504.67,271.36 504.79,272.51 C504.90,273.67 505.02,274.83 505.13,275.99 C505.24,277.14 505.35,278.30 505.46,279.45 C505.57,280.61 505.67,281.76 505.78,282.92 C505.88,284.07 505.99,285.22 506.09,286.37 C506.20,287.52 506.30,288.67 506.40,289.82 C506.51,290.97 506.61,292.12 506.72,293.26 C506.82,294.40 506.93,295.55 507.03,296.69 C507.14,297.83 507.25,298.97 507.36,300.10 C507.47,301.24 507.65,302.93 507.70,303.50" stroke="#FCD68E" stroke-width="1.65" fill="none" stroke-linejoin="round"/>
<path d="M44.00,80.00 C44.07,81.33 44.27,85.87 44.40,88.00 C44.53,90.13 44.62,91.38 44.80,92.80 C44.98,94.22 45.27,95.42 45.50,96.50 C45.73,97.58 45.93,98.32 46.20,99.30 C46.47,100.28 46.78,101.45 47.10,102.40 C47.42,103.35 47.68,104.13 48.10,105.00 C48.52,105.87 49.07,106.83 49.60,107.60 C50.13,108.37 50.57,108.93 51.30,109.60 C52.03,110.27 53.05,111.03 54.00,111.60 C54.95,112.17 56.00,112.58 57.00,113.00 C58.00,113.42 58.95,113.70 60.00,114.10 C61.05,114.50 62.18,114.98 63.28,115.39 C64.38,115.79 65.48,116.18 66.58,116.56 C67.69,116.93 68.80,117.29 69.91,117.63 C71.03,117.97 72.14,118.29 73.26,118.60 C74.38,118.91 75.51,119.20 76.63,119.48 C77.76,119.76 78.89,120.03 80.02,120.28 C81.15,120.53 82.29,120.77 83.43,121.00 C84.56,121.22 85.70,121.44 86.85,121.65 C87.99,121.85 89.13,122.04 90.28,122.23 C91.42,122.42 92.57,122.59 93.72,122.76 C94.87,122.92 96.02,123.08 97.17,123.23 C98.32,123.39 99.47,123.53 100.62,123.67 C101.78,123.80 102.93,123.94 104.09,124.06 C105.24,124.19 106.40,124.31 107.55,124.42 C108.71,124.54 109.87,124.64 111.02,124.75 C112.18,124.85 113.34,124.95 114.50,125.05 C115.66,125.14 116.82,125.23 117.98,125.32 C119.14,125.40 120.30,125.48 121.46,125.56 C122.62,125.64 123.78,125.72 124.94,125.79 C126.11,125.86 127.27,125.93 128.43,125.99 C129.59,126.06 130.76,126.12 131.92,126.18 C133.08,126.24 134.25,126.30 135.41,126.36 C136.58,126.42 137.74,126.47 138.91,126.53 C140.07,126.58 141.23,126.63 142.40,126.68 C143.56,126.74 144.73,126.79 145.89,126.84 C147.06,126.89 148.22,126.94 149.39,126.99 C150.55,127.04 151.72,127.09 152.88,127.14 C154.05,127.19 155.21,127.24 156.38,127.29 C157.54,127.34 158.71,127.39 159.87,127.44 C161.04,127.49 162.20,127.54 163.37,127.59 C164.53,127.65 165.70,127.70 166.86,127.75 C168.03,127.80 169.19,127.85 170.36,127.91 C171.52,127.96 172.69,128.01 173.85,128.06 C175.02,128.12 176.18,128.17 177.34,128.22 C178.51,128.28 179.67,128.33 180.84,128.39 C182.00,128.44 183.17,128.50 184.33,128.55 C185.49,128.61 186.66,128.66 187.82,128.72 C188.99,128.78 190.15,128.83 191.31,128.89 C192.48,128.95 193.64,129.01 194.81,129.06 C195.97,129.12 197.13,129.18 198.30,129.24 C199.46,129.30 200.62,129.36 201.79,129.42 C202.95,129.48 204.11,129.54 205.28,129.61 C206.44,129.67 207.60,129.73 208.77,129.79 C209.93,129.86 211.09,129.92 212.25,129.99 C213.42,130.05 214.58,130.12 215.74,130.18 C216.91,130.25 218.07,130.32 219.23,130.38 C220.39,130.45 221.55,130.52 222.72,130.59 C223.88,130.66 225.04,130.73 226.20,130.80 C227.36,130.87 228.52,130.94 229.69,131.02 C230.85,131.09 232.01,131.16 233.17,131.24 C234.33,131.31 235.49,131.39 236.65,131.46 C237.81,131.54 238.97,131.62 240.13,131.70 C241.30,131.77 242.46,131.85 243.62,131.93 C244.78,132.01 245.94,132.10 247.10,132.18 C248.26,132.26 249.42,132.34 250.58,132.43 C251.73,132.51 252.89,132.60 254.05,132.69 C255.21,132.77 256.37,132.86 257.53,132.95 C258.69,133.04 259.85,133.13 261.01,133.22 C262.17,133.31 263.32,133.40 264.48,133.49 C265.64,133.59 266.80,133.68 267.96,133.77 C269.11,133.87 270.27,133.96 271.43,134.06 C272.59,134.16 273.75,134.25 274.90,134.35 C276.06,134.45 277.22,134.55 278.38,134.65 C279.53,134.75 280.69,134.85 281.85,134.95 C283.01,135.05 284.16,135.16 285.32,135.26 C286.48,135.36 287.63,135.47 288.79,135.57 C289.95,135.67 291.11,135.78 292.26,135.89 C293.42,135.99 294.58,136.10 295.73,136.21 C296.89,136.31 298.05,136.42 299.20,136.53 C300.36,136.64 301.52,136.75 302.68,136.86 C303.83,136.97 304.99,137.08 306.15,137.19 C307.30,137.30 308.46,137.42 309.62,137.53 C310.77,137.64 311.93,137.75 313.09,137.87 C314.25,137.98 315.40,138.10 316.56,138.21 C317.72,138.32 318.87,138.44 320.03,138.56 C321.19,138.67 322.34,138.79 323.50,138.90 C324.66,139.02 325.82,139.14 326.97,139.26 C328.13,139.37 329.29,139.49 330.45,139.61 C331.60,139.73 332.76,139.85 333.92,139.96 C335.08,140.08 336.24,140.20 337.39,140.32 C338.55,140.44 339.71,140.56 340.87,140.68 C342.03,140.80 343.18,140.92 344.34,141.04 C345.50,141.17 346.66,141.29 347.82,141.41 C348.98,141.53 350.14,141.65 351.30,141.77 C352.46,141.90 353.61,142.02 354.77,142.14 C355.93,142.26 357.09,142.38 358.25,142.51 C359.41,142.63 360.57,142.75 361.73,142.88 C362.89,143.00 364.05,143.12 365.21,143.25 C366.37,143.37 367.53,143.50 368.69,143.62 C369.85,143.75 371.01,143.88 372.17,144.01 C373.33,144.13 374.49,144.27 375.65,144.40 C376.81,144.53 377.97,144.67 379.13,144.81 C380.29,144.94 381.45,145.09 382.61,145.23 C383.76,145.37 384.92,145.52 386.08,145.67 C387.23,145.82 388.39,145.98 389.55,146.14 C390.70,146.29 391.86,146.46 393.01,146.62 C394.16,146.79 395.32,146.96 396.47,147.14 C397.62,147.32 398.77,147.50 399.92,147.68 C401.07,147.87 402.22,148.06 403.37,148.26 C404.52,148.46 405.66,148.67 406.81,148.88 C407.95,149.09 409.10,149.30 410.24,149.53 C411.38,149.75 412.52,149.98 413.66,150.22 C414.80,150.46 415.94,150.70 417.08,150.96 C418.22,151.21 419.35,151.47 420.48,151.74 C421.62,152.01 422.75,152.29 423.88,152.57 C425.01,152.86 426.14,153.15 427.26,153.46 C428.39,153.76 429.51,154.07 430.64,154.40 C431.76,154.72 432.88,155.05 434.00,155.40 C435.11,155.74 436.22,156.10 437.33,156.47 C438.44,156.83 439.54,157.22 440.63,157.61 C441.73,158.01 442.82,158.42 443.89,158.85 C444.97,159.28 446.04,159.73 447.10,160.19 C448.16,160.66 449.21,161.14 450.25,161.64 C451.29,162.15 452.31,162.67 453.33,163.22 C454.34,163.76 455.34,164.33 456.32,164.92 C457.30,165.51 458.27,166.13 459.23,166.77 C460.18,167.41 461.12,168.07 462.04,168.76 C462.96,169.45 463.86,170.16 464.75,170.89 C465.64,171.62 466.51,172.38 467.36,173.15 C468.22,173.92 469.05,174.72 469.87,175.53 C470.69,176.34 471.50,177.17 472.28,178.02 C473.07,178.87 473.84,179.74 474.59,180.62 C475.34,181.51 476.08,182.41 476.80,183.32 C477.51,184.23 478.21,185.17 478.89,186.11 C479.57,187.05 480.24,188.01 480.88,188.98 C481.53,189.94 482.16,190.93 482.76,191.92 C483.37,192.91 483.96,193.91 484.54,194.93 C485.11,195.94 485.66,196.96 486.20,197.99 C486.73,199.03 487.25,200.07 487.76,201.12 C488.26,202.17 488.75,203.22 489.22,204.29 C489.69,205.36 490.14,206.43 490.58,207.51 C491.02,208.59 491.45,209.68 491.86,210.77 C492.27,211.86 492.67,212.97 493.05,214.07 C493.44,215.18 493.81,216.29 494.17,217.40 C494.53,218.52 494.87,219.64 495.21,220.76 C495.54,221.89 495.87,223.02 496.18,224.15 C496.49,225.28 496.79,226.42 497.09,227.56 C497.38,228.70 497.66,229.84 497.94,230.98 C498.21,232.12 498.47,233.27 498.73,234.41 C498.99,235.56 499.24,236.71 499.48,237.86 C499.72,239.00 499.95,240.15 500.18,241.30 C500.41,242.45 500.63,243.60 500.84,244.74 C501.06,245.89 501.26,247.04 501.47,248.18 C501.67,249.33 501.87,250.47 502.06,251.62 C502.25,252.76 502.44,253.91 502.62,255.05 C502.81,256.20 502.98,257.34 503.15,258.49 C503.33,259.63 503.49,260.77 503.66,261.92 C503.82,263.06 503.98,264.21 504.13,265.35 C504.28,266.50 504.43,267.64 504.57,268.79 C504.72,269.93 504.86,271.08 504.99,272.23 C505.13,273.37 505.26,274.52 505.39,275.67 C505.51,276.82 505.64,277.97 505.76,279.12 C505.88,280.27 505.99,281.42 506.11,282.57 C506.22,283.72 506.33,284.88 506.43,286.03 C506.54,287.19 506.64,288.35 506.74,289.51 C506.84,290.66 506.94,291.82 507.03,292.99 C507.13,294.15 507.22,295.31 507.30,296.48 C507.39,297.64 507.48,298.81 507.56,299.98 C507.64,301.15 507.76,302.91 507.80,303.50" stroke="#FFFF00" stroke-width="1.65" fill="none" stroke-linejoin="round"/>
<path d="M44.00,70.00 C44.08,71.67 44.30,76.83 44.50,80.00 C44.70,83.17 44.95,86.75 45.20,89.00 C45.45,91.25 45.75,92.40 46.00,93.50 C46.25,94.60 46.37,94.82 46.70,95.60 C47.03,96.38 47.53,97.42 48.00,98.20 C48.47,98.98 48.92,99.62 49.50,100.30 C50.08,100.98 50.73,101.68 51.50,102.30 C52.27,102.92 53.18,103.48 54.10,104.00 C55.02,104.52 56.05,105.00 57.00,105.40 C57.95,105.80 58.77,106.06 59.80,106.40 C60.83,106.74 62.05,107.10 63.18,107.44 C64.30,107.77 65.43,108.10 66.56,108.41 C67.70,108.72 68.83,109.02 69.97,109.31 C71.10,109.59 72.24,109.87 73.38,110.14 C74.52,110.41 75.66,110.66 76.80,110.91 C77.95,111.16 79.09,111.39 80.24,111.62 C81.38,111.85 82.53,112.07 83.68,112.27 C84.83,112.48 85.98,112.68 87.13,112.88 C88.28,113.07 89.44,113.25 90.59,113.43 C91.75,113.60 92.90,113.77 94.06,113.93 C95.22,114.09 96.38,114.24 97.54,114.39 C98.69,114.54 99.85,114.67 101.02,114.81 C102.18,114.94 103.34,115.07 104.50,115.19 C105.66,115.31 106.83,115.42 107.99,115.53 C109.16,115.64 110.32,115.75 111.49,115.85 C112.65,115.95 113.82,116.04 114.99,116.13 C116.15,116.22 117.32,116.31 118.49,116.39 C119.66,116.48 120.82,116.56 121.99,116.63 C123.16,116.71 124.33,116.78 125.50,116.85 C126.67,116.92 127.84,116.99 129.01,117.05 C130.18,117.12 131.35,117.18 132.52,117.25 C133.69,117.31 134.86,117.37 136.03,117.43 C137.21,117.49 138.38,117.54 139.55,117.60 C140.72,117.66 141.89,117.72 143.06,117.78 C144.23,117.83 145.40,117.89 146.57,117.95 C147.75,118.01 148.92,118.06 150.09,118.12 C151.26,118.18 152.43,118.24 153.60,118.31 C154.77,118.37 155.94,118.43 157.11,118.49 C158.28,118.56 159.45,118.62 160.62,118.69 C161.79,118.75 162.96,118.82 164.13,118.89 C165.30,118.96 166.46,119.02 167.63,119.09 C168.80,119.16 169.97,119.23 171.14,119.30 C172.31,119.37 173.48,119.45 174.65,119.52 C175.81,119.59 176.98,119.66 178.15,119.74 C179.32,119.81 180.49,119.89 181.65,119.96 C182.82,120.04 183.99,120.11 185.16,120.19 C186.33,120.26 187.49,120.34 188.66,120.42 C189.83,120.50 191.00,120.57 192.16,120.65 C193.33,120.73 194.50,120.81 195.67,120.89 C196.83,120.97 198.00,121.05 199.17,121.13 C200.33,121.21 201.50,121.29 202.67,121.37 C203.84,121.45 205.00,121.53 206.17,121.61 C207.34,121.69 208.50,121.77 209.67,121.85 C210.84,121.94 212.00,122.02 213.17,122.10 C214.34,122.18 215.51,122.26 216.67,122.35 C217.84,122.43 219.01,122.51 220.17,122.59 C221.34,122.68 222.51,122.76 223.67,122.84 C224.84,122.92 226.01,123.01 227.18,123.09 C228.34,123.17 229.51,123.25 230.68,123.34 C231.84,123.42 233.01,123.50 234.18,123.58 C235.34,123.67 236.51,123.75 237.68,123.83 C238.85,123.91 240.01,123.99 241.18,124.08 C242.35,124.16 243.52,124.24 244.68,124.32 C245.85,124.40 247.02,124.48 248.19,124.56 C249.35,124.64 250.52,124.72 251.69,124.80 C252.86,124.88 254.03,124.96 255.19,125.04 C256.36,125.12 257.53,125.20 258.70,125.27 C259.87,125.35 261.04,125.43 262.20,125.51 C263.37,125.59 264.54,125.67 265.71,125.75 C266.88,125.83 268.05,125.90 269.21,125.98 C270.38,126.06 271.55,126.14 272.72,126.22 C273.89,126.30 275.06,126.38 276.23,126.46 C277.39,126.54 278.56,126.62 279.73,126.70 C280.90,126.79 282.07,126.87 283.24,126.95 C284.40,127.03 285.57,127.12 286.74,127.20 C287.91,127.28 289.08,127.37 290.24,127.45 C291.41,127.54 292.58,127.63 293.75,127.71 C294.92,127.80 296.08,127.89 297.25,127.98 C298.42,128.07 299.59,128.16 300.75,128.25 C301.92,128.34 303.09,128.44 304.26,128.53 C305.42,128.63 306.59,128.72 307.76,128.82 C308.92,128.92 310.09,129.02 311.26,129.12 C312.42,129.22 313.59,129.32 314.75,129.42 C315.92,129.52 317.09,129.63 318.25,129.74 C319.42,129.84 320.58,129.95 321.75,130.06 C322.91,130.17 324.08,130.28 325.24,130.40 C326.41,130.51 327.57,130.63 328.73,130.75 C329.90,130.86 331.06,130.98 332.23,131.11 C333.39,131.23 334.55,131.35 335.72,131.48 C336.88,131.61 338.04,131.74 339.20,131.87 C340.37,132.00 341.53,132.13 342.69,132.27 C343.85,132.41 345.01,132.55 346.17,132.69 C347.33,132.83 348.49,132.97 349.65,133.12 C350.81,133.27 351.97,133.42 353.13,133.57 C354.29,133.72 355.45,133.88 356.61,134.04 C357.77,134.20 358.93,134.36 360.09,134.52 C361.24,134.69 362.40,134.85 363.56,135.02 C364.72,135.19 365.87,135.37 367.03,135.54 C368.18,135.72 369.34,135.90 370.50,136.09 C371.65,136.27 372.81,136.46 373.96,136.65 C375.11,136.84 376.27,137.03 377.42,137.23 C378.57,137.43 379.73,137.63 380.88,137.83 C382.03,138.04 383.18,138.25 384.33,138.46 C385.49,138.67 386.64,138.89 387.79,139.11 C388.94,139.33 390.09,139.55 391.24,139.78 C392.38,140.01 393.53,140.24 394.68,140.48 C395.83,140.71 396.98,140.95 398.12,141.20 C399.27,141.44 400.42,141.69 401.56,141.95 C402.71,142.20 403.85,142.46 405.00,142.72 C406.14,142.98 407.28,143.25 408.43,143.52 C409.57,143.79 410.71,144.07 411.85,144.35 C412.99,144.63 414.14,144.91 415.27,145.21 C416.41,145.50 417.55,145.80 418.68,146.11 C419.82,146.41 420.95,146.73 422.08,147.05 C423.20,147.38 424.33,147.71 425.45,148.05 C426.57,148.40 427.68,148.75 428.79,149.12 C429.90,149.49 431.01,149.87 432.10,150.26 C433.20,150.66 434.29,151.06 435.38,151.49 C436.46,151.91 437.54,152.35 438.61,152.80 C439.68,153.25 440.74,153.72 441.79,154.21 C442.85,154.70 443.89,155.20 444.92,155.73 C445.96,156.25 446.98,156.80 448.00,157.36 C449.01,157.93 450.01,158.51 451.00,159.11 C452.00,159.72 452.98,160.34 453.94,160.98 C454.91,161.63 455.87,162.29 456.81,162.97 C457.75,163.65 458.69,164.35 459.60,165.07 C460.52,165.78 461.42,166.52 462.31,167.27 C463.20,168.03 464.07,168.80 464.93,169.59 C465.78,170.38 466.63,171.19 467.45,172.02 C468.28,172.84 469.09,173.68 469.89,174.54 C470.69,175.40 471.47,176.27 472.23,177.16 C473.00,178.05 473.75,178.95 474.48,179.87 C475.22,180.79 475.94,181.72 476.64,182.66 C477.34,183.60 478.03,184.56 478.70,185.52 C479.37,186.49 480.03,187.47 480.67,188.46 C481.31,189.44 481.93,190.44 482.54,191.45 C483.15,192.46 483.74,193.47 484.32,194.50 C484.90,195.52 485.46,196.56 486.01,197.59 C486.55,198.63 487.08,199.68 487.60,200.73 C488.11,201.79 488.61,202.85 489.09,203.91 C489.57,204.97 490.04,206.04 490.50,207.12 C490.95,208.19 491.39,209.28 491.81,210.36 C492.24,211.45 492.65,212.54 493.05,213.63 C493.44,214.73 493.83,215.83 494.20,216.94 C494.57,218.04 494.93,219.15 495.28,220.27 C495.63,221.38 495.96,222.50 496.28,223.62 C496.61,224.74 496.92,225.87 497.22,227.00 C497.52,228.13 497.81,229.26 498.09,230.40 C498.37,231.53 498.64,232.67 498.90,233.81 C499.16,234.96 499.41,236.10 499.65,237.25 C499.90,238.40 500.13,239.55 500.35,240.70 C500.58,241.86 500.79,243.01 501.00,244.17 C501.21,245.33 501.41,246.49 501.60,247.65 C501.79,248.81 501.98,249.97 502.16,251.14 C502.34,252.30 502.51,253.47 502.68,254.64 C502.85,255.80 503.01,256.97 503.16,258.14 C503.32,259.31 503.47,260.48 503.62,261.65 C503.76,262.82 503.90,263.99 504.04,265.17 C504.18,266.34 504.31,267.51 504.44,268.68 C504.57,269.85 504.69,271.02 504.82,272.19 C504.94,273.37 505.06,274.54 505.18,275.71 C505.30,276.88 505.41,278.05 505.53,279.21 C505.64,280.38 505.75,281.55 505.87,282.72 C505.98,283.88 506.09,285.05 506.20,286.21 C506.31,287.37 506.42,288.53 506.53,289.69 C506.64,290.85 506.75,292.01 506.86,293.17 C506.97,294.32 507.08,295.48 507.20,296.63 C507.31,297.78 507.43,298.93 507.54,300.07 C507.66,301.22 507.84,302.93 507.90,303.50" stroke="#C4DFB0" stroke-width="1.65" fill="none" stroke-linejoin="round"/>
<path d="M44.00,62.00 C44.08,63.67 44.28,68.67 44.50,72.00 C44.72,75.33 45.02,79.33 45.30,82.00 C45.58,84.67 45.78,86.42 46.20,88.00 C46.62,89.58 47.22,90.53 47.80,91.50 C48.38,92.47 49.03,93.08 49.70,93.80 C50.37,94.52 51.03,95.23 51.80,95.80 C52.57,96.37 53.27,96.77 54.30,97.20 C55.33,97.63 56.72,98.07 58.00,98.40 C59.28,98.73 60.76,98.92 62.00,99.20 C63.24,99.48 64.28,99.79 65.43,100.07 C66.57,100.35 67.71,100.62 68.86,100.89 C70.01,101.15 71.15,101.40 72.30,101.64 C73.45,101.88 74.60,102.11 75.75,102.34 C76.90,102.56 78.06,102.78 79.21,102.98 C80.36,103.19 81.52,103.39 82.67,103.58 C83.83,103.77 84.99,103.95 86.14,104.13 C87.30,104.30 88.46,104.47 89.62,104.63 C90.78,104.79 91.94,104.95 93.11,105.10 C94.27,105.24 95.43,105.38 96.60,105.52 C97.76,105.65 98.92,105.78 100.09,105.90 C101.25,106.03 102.42,106.15 103.59,106.26 C104.76,106.37 105.92,106.48 107.09,106.58 C108.26,106.68 109.43,106.78 110.60,106.87 C111.77,106.97 112.94,107.05 114.11,107.14 C115.28,107.23 116.45,107.31 117.62,107.38 C118.80,107.46 119.97,107.54 121.14,107.61 C122.31,107.68 123.49,107.75 124.66,107.82 C125.83,107.88 127.01,107.95 128.18,108.01 C129.36,108.07 130.53,108.13 131.71,108.19 C132.88,108.25 134.06,108.30 135.23,108.36 C136.41,108.42 137.58,108.47 138.76,108.53 C139.93,108.58 141.11,108.63 142.28,108.69 C143.46,108.74 144.63,108.79 145.81,108.85 C146.98,108.90 148.16,108.95 149.34,109.01 C150.51,109.06 151.69,109.12 152.86,109.17 C154.04,109.23 155.21,109.28 156.39,109.34 C157.56,109.40 158.74,109.46 159.91,109.52 C161.09,109.57 162.26,109.63 163.43,109.69 C164.61,109.75 165.78,109.82 166.96,109.88 C168.13,109.94 169.31,110.00 170.48,110.07 C171.65,110.13 172.83,110.19 174.00,110.26 C175.18,110.32 176.35,110.39 177.52,110.45 C178.70,110.52 179.87,110.59 181.04,110.65 C182.22,110.72 183.39,110.79 184.56,110.86 C185.74,110.93 186.91,111.00 188.08,111.07 C189.26,111.14 190.43,111.21 191.60,111.28 C192.78,111.35 193.95,111.42 195.12,111.49 C196.30,111.57 197.47,111.64 198.64,111.71 C199.81,111.79 200.99,111.86 202.16,111.94 C203.33,112.01 204.50,112.09 205.68,112.16 C206.85,112.24 208.02,112.32 209.19,112.39 C210.37,112.47 211.54,112.55 212.71,112.63 C213.88,112.71 215.05,112.78 216.23,112.86 C217.40,112.94 218.57,113.02 219.74,113.10 C220.91,113.18 222.08,113.27 223.26,113.35 C224.43,113.43 225.60,113.51 226.77,113.59 C227.94,113.68 229.11,113.76 230.29,113.84 C231.46,113.93 232.63,114.01 233.80,114.09 C234.97,114.18 236.14,114.26 237.31,114.35 C238.49,114.43 239.66,114.52 240.83,114.61 C242.00,114.69 243.17,114.78 244.34,114.87 C245.51,114.95 246.68,115.04 247.85,115.13 C249.02,115.22 250.20,115.31 251.37,115.39 C252.54,115.48 253.71,115.57 254.88,115.66 C256.05,115.75 257.22,115.84 258.39,115.93 C259.56,116.02 260.73,116.11 261.90,116.21 C263.07,116.30 264.24,116.39 265.41,116.48 C266.58,116.58 267.75,116.67 268.92,116.76 C270.09,116.86 271.26,116.95 272.43,117.05 C273.61,117.15 274.78,117.24 275.95,117.34 C277.12,117.44 278.29,117.54 279.45,117.64 C280.62,117.73 281.79,117.83 282.96,117.94 C284.13,118.04 285.30,118.14 286.47,118.24 C287.64,118.34 288.81,118.45 289.98,118.55 C291.15,118.66 292.32,118.77 293.49,118.87 C294.66,118.98 295.83,119.09 297.00,119.20 C298.17,119.31 299.33,119.42 300.50,119.53 C301.67,119.64 302.84,119.76 304.01,119.87 C305.18,119.98 306.35,120.10 307.51,120.22 C308.68,120.34 309.85,120.45 311.02,120.57 C312.19,120.69 313.36,120.82 314.52,120.94 C315.69,121.06 316.86,121.19 318.03,121.31 C319.19,121.44 320.36,121.56 321.53,121.69 C322.70,121.82 323.86,121.95 325.03,122.09 C326.20,122.22 327.37,122.35 328.53,122.49 C329.70,122.62 330.87,122.76 332.03,122.90 C333.20,123.04 334.37,123.18 335.53,123.32 C336.70,123.47 337.87,123.61 339.03,123.76 C340.20,123.90 341.36,124.05 342.53,124.20 C343.70,124.35 344.86,124.50 346.03,124.66 C347.19,124.81 348.36,124.97 349.52,125.13 C350.69,125.29 351.85,125.45 353.02,125.61 C354.18,125.77 355.35,125.94 356.51,126.10 C357.68,126.27 358.84,126.44 360.01,126.61 C361.17,126.78 362.34,126.95 363.50,127.13 C364.66,127.31 365.83,127.48 366.99,127.66 C368.15,127.85 369.32,128.03 370.48,128.21 C371.64,128.40 372.80,128.59 373.97,128.78 C375.13,128.97 376.29,129.17 377.45,129.36 C378.61,129.56 379.77,129.76 380.92,129.96 C382.08,130.17 383.24,130.37 384.40,130.58 C385.55,130.79 386.71,131.01 387.86,131.22 C389.01,131.44 390.17,131.66 391.32,131.88 C392.47,132.11 393.62,132.33 394.77,132.57 C395.92,132.80 397.06,133.04 398.21,133.29 C399.35,133.53 400.49,133.79 401.63,134.05 C402.77,134.31 403.91,134.59 405.04,134.87 C406.17,135.15 407.30,135.45 408.43,135.75 C409.55,136.06 410.67,136.38 411.79,136.71 C412.90,137.05 414.02,137.39 415.12,137.76 C416.23,138.12 417.33,138.49 418.43,138.88 C419.53,139.27 420.62,139.67 421.71,140.09 C422.80,140.51 423.88,140.94 424.96,141.39 C426.04,141.84 427.11,142.30 428.18,142.78 C429.24,143.26 430.31,143.75 431.36,144.26 C432.42,144.77 433.47,145.29 434.51,145.83 C435.56,146.37 436.59,146.92 437.62,147.49 C438.65,148.06 439.68,148.65 440.69,149.24 C441.71,149.84 442.72,150.46 443.72,151.08 C444.72,151.71 445.71,152.35 446.69,153.00 C447.67,153.66 448.65,154.33 449.61,155.01 C450.58,155.69 451.53,156.39 452.48,157.10 C453.42,157.81 454.36,158.53 455.28,159.26 C456.21,160.00 457.12,160.75 458.03,161.51 C458.93,162.27 459.82,163.05 460.70,163.83 C461.58,164.62 462.45,165.42 463.31,166.23 C464.16,167.04 465.01,167.86 465.84,168.70 C466.67,169.53 467.49,170.38 468.29,171.24 C469.10,172.10 469.89,172.97 470.67,173.85 C471.44,174.73 472.21,175.63 472.96,176.53 C473.71,177.43 474.44,178.35 475.16,179.27 C475.88,180.20 476.58,181.14 477.27,182.08 C477.96,183.03 478.63,183.99 479.29,184.96 C479.94,185.92 480.58,186.90 481.20,187.89 C481.82,188.88 482.43,189.87 483.02,190.88 C483.61,191.89 484.18,192.91 484.73,193.93 C485.28,194.96 485.82,195.99 486.34,197.04 C486.86,198.08 487.36,199.13 487.84,200.19 C488.33,201.25 488.80,202.32 489.26,203.39 C489.72,204.47 490.16,205.55 490.59,206.64 C491.01,207.73 491.43,208.82 491.83,209.93 C492.23,211.03 492.62,212.13 492.99,213.25 C493.37,214.36 493.73,215.48 494.08,216.60 C494.43,217.72 494.77,218.85 495.10,219.98 C495.43,221.11 495.75,222.25 496.06,223.39 C496.37,224.53 496.67,225.67 496.96,226.82 C497.25,227.96 497.53,229.11 497.80,230.26 C498.07,231.41 498.34,232.56 498.60,233.72 C498.85,234.87 499.10,236.03 499.35,237.19 C499.59,238.34 499.82,239.50 500.06,240.66 C500.29,241.82 500.51,242.98 500.73,244.13 C500.95,245.29 501.17,246.45 501.38,247.61 C501.59,248.77 501.79,249.93 501.99,251.08 C502.19,252.24 502.39,253.40 502.58,254.56 C502.77,255.71 502.96,256.87 503.14,258.03 C503.32,259.19 503.50,260.35 503.67,261.51 C503.84,262.66 504.01,263.82 504.17,264.98 C504.33,266.14 504.49,267.30 504.65,268.46 C504.80,269.62 504.95,270.78 505.09,271.94 C505.24,273.10 505.38,274.26 505.52,275.43 C505.65,276.59 505.79,277.75 505.91,278.92 C506.04,280.08 506.17,281.24 506.28,282.41 C506.40,283.57 506.52,284.74 506.63,285.91 C506.74,287.07 506.85,288.24 506.95,289.41 C507.06,290.58 507.15,291.75 507.25,292.92 C507.34,294.09 507.44,295.27 507.52,296.44 C507.61,297.61 507.69,298.79 507.77,299.97 C507.85,301.14 507.96,302.91 508.00,303.50" stroke="#92D050" stroke-width="1.65" fill="none" stroke-linejoin="round"/>
<path d="M44.00,55.00 C44.07,56.50 44.20,60.83 44.40,64.00 C44.60,67.17 44.93,71.58 45.20,74.00 C45.47,76.42 45.73,77.33 46.00,78.50 C46.27,79.67 46.47,80.18 46.80,81.00 C47.13,81.82 47.62,82.73 48.00,83.40 C48.38,84.07 48.60,84.43 49.10,85.00 C49.60,85.57 50.32,86.30 51.00,86.80 C51.68,87.30 52.20,87.55 53.20,88.00 C54.20,88.45 55.53,89.03 57.00,89.50 C58.47,89.97 60.58,90.49 62.00,90.80 C63.42,91.12 64.35,91.20 65.52,91.39 C66.70,91.58 67.87,91.76 69.05,91.94 C70.22,92.12 71.40,92.30 72.57,92.47 C73.75,92.64 74.92,92.80 76.10,92.96 C77.28,93.12 78.45,93.28 79.63,93.43 C80.80,93.58 81.98,93.73 83.16,93.87 C84.33,94.01 85.51,94.15 86.69,94.28 C87.86,94.42 89.04,94.55 90.22,94.67 C91.40,94.80 92.57,94.92 93.75,95.04 C94.93,95.16 96.11,95.27 97.29,95.39 C98.47,95.50 99.64,95.61 100.82,95.72 C102.00,95.82 103.18,95.92 104.36,96.03 C105.54,96.13 106.72,96.22 107.90,96.32 C109.08,96.41 110.26,96.51 111.44,96.60 C112.62,96.69 113.80,96.78 114.98,96.86 C116.16,96.95 117.34,97.03 118.52,97.12 C119.70,97.20 120.89,97.28 122.07,97.36 C123.25,97.44 124.43,97.52 125.61,97.59 C126.80,97.67 127.98,97.75 129.16,97.82 C130.34,97.89 131.53,97.97 132.71,98.04 C133.89,98.11 135.08,98.18 136.26,98.26 C137.44,98.33 138.63,98.40 139.81,98.47 C141.00,98.54 142.18,98.61 143.37,98.68 C144.55,98.75 145.74,98.82 146.92,98.89 C148.11,98.96 149.29,99.03 150.48,99.09 C151.67,99.16 152.85,99.23 154.04,99.30 C155.22,99.37 156.41,99.44 157.60,99.51 C158.78,99.58 159.97,99.64 161.16,99.71 C162.34,99.78 163.53,99.85 164.72,99.92 C165.90,99.99 167.09,100.06 168.28,100.12 C169.47,100.19 170.65,100.26 171.84,100.33 C173.03,100.40 174.22,100.47 175.40,100.54 C176.59,100.60 177.78,100.67 178.97,100.74 C180.15,100.81 181.34,100.88 182.53,100.95 C183.72,101.02 184.90,101.09 186.09,101.16 C187.28,101.23 188.47,101.30 189.65,101.37 C190.84,101.44 192.03,101.51 193.22,101.58 C194.40,101.66 195.59,101.73 196.78,101.80 C197.97,101.87 199.15,101.94 200.34,102.02 C201.53,102.09 202.71,102.16 203.90,102.24 C205.09,102.31 206.27,102.38 207.46,102.46 C208.65,102.53 209.83,102.61 211.02,102.68 C212.21,102.76 213.39,102.84 214.58,102.91 C215.76,102.99 216.95,103.07 218.13,103.14 C219.32,103.22 220.50,103.30 221.69,103.38 C222.87,103.46 224.06,103.54 225.24,103.62 C226.43,103.70 227.61,103.78 228.79,103.86 C229.98,103.95 231.16,104.03 232.34,104.11 C233.53,104.20 234.71,104.28 235.89,104.37 C237.07,104.45 238.26,104.54 239.44,104.62 C240.62,104.71 241.80,104.80 242.98,104.89 C244.16,104.98 245.34,105.07 246.52,105.16 C247.70,105.25 248.88,105.34 250.06,105.43 C251.24,105.52 252.42,105.62 253.60,105.71 C254.78,105.81 255.96,105.90 257.13,106.00 C258.31,106.09 259.49,106.19 260.66,106.29 C261.84,106.39 263.02,106.49 264.19,106.59 C265.37,106.69 266.55,106.79 267.72,106.90 C268.90,107.00 270.07,107.10 271.25,107.21 C272.42,107.31 273.60,107.42 274.77,107.53 C275.95,107.63 277.12,107.74 278.30,107.85 C279.47,107.96 280.65,108.07 281.82,108.19 C283.00,108.30 284.17,108.41 285.34,108.53 C286.52,108.64 287.69,108.76 288.87,108.87 C290.04,108.99 291.21,109.11 292.39,109.23 C293.56,109.35 294.74,109.47 295.91,109.59 C297.08,109.71 298.26,109.84 299.43,109.96 C300.60,110.08 301.78,110.21 302.95,110.34 C304.13,110.46 305.30,110.59 306.48,110.72 C307.65,110.85 308.82,110.98 310.00,111.12 C311.17,111.25 312.35,111.38 313.52,111.52 C314.70,111.65 315.87,111.79 317.05,111.93 C318.23,112.06 319.40,112.20 320.58,112.34 C321.75,112.49 322.93,112.63 324.11,112.77 C325.28,112.91 326.46,113.06 327.64,113.21 C328.81,113.35 329.99,113.50 331.17,113.65 C332.35,113.80 333.53,113.95 334.71,114.10 C335.88,114.26 337.06,114.41 338.24,114.56 C339.42,114.72 340.60,114.88 341.78,115.04 C342.96,115.19 344.15,115.35 345.33,115.52 C346.51,115.68 347.69,115.84 348.87,116.00 C350.06,116.17 351.24,116.34 352.42,116.50 C353.61,116.67 354.79,116.84 355.98,117.01 C357.16,117.18 358.35,117.36 359.54,117.53 C360.72,117.71 361.91,117.88 363.10,118.06 C364.28,118.24 365.47,118.42 366.66,118.60 C367.85,118.79 369.04,118.97 370.22,119.16 C371.41,119.35 372.60,119.55 373.78,119.74 C374.97,119.94 376.15,120.15 377.33,120.35 C378.52,120.56 379.70,120.78 380.88,120.99 C382.06,121.21 383.24,121.44 384.41,121.67 C385.59,121.90 386.77,122.14 387.94,122.39 C389.11,122.63 390.28,122.88 391.44,123.14 C392.61,123.41 393.77,123.67 394.93,123.95 C396.09,124.23 397.24,124.52 398.40,124.81 C399.55,125.11 400.70,125.41 401.84,125.73 C402.98,126.04 404.12,126.37 405.26,126.71 C406.39,127.04 407.52,127.39 408.65,127.75 C409.77,128.11 410.89,128.48 412.00,128.86 C413.12,129.25 414.23,129.64 415.33,130.05 C416.43,130.46 417.53,130.88 418.62,131.32 C419.71,131.75 420.79,132.20 421.87,132.66 C422.95,133.13 424.02,133.61 425.08,134.10 C426.14,134.59 427.20,135.10 428.25,135.63 C429.29,136.15 430.34,136.69 431.37,137.25 C432.40,137.81 433.42,138.38 434.44,138.97 C435.46,139.56 436.46,140.16 437.46,140.78 C438.46,141.40 439.45,142.04 440.43,142.69 C441.42,143.34 442.39,144.00 443.35,144.68 C444.32,145.36 445.27,146.05 446.21,146.76 C447.16,147.47 448.09,148.19 449.02,148.92 C449.95,149.66 450.86,150.41 451.77,151.17 C452.67,151.93 453.57,152.71 454.45,153.49 C455.34,154.28 456.21,155.08 457.08,155.89 C457.94,156.70 458.79,157.53 459.63,158.36 C460.48,159.20 461.31,160.05 462.13,160.91 C462.95,161.76 463.76,162.63 464.55,163.52 C465.35,164.40 466.13,165.29 466.91,166.19 C467.68,167.09 468.44,168.00 469.19,168.93 C469.94,169.85 470.68,170.78 471.40,171.72 C472.13,172.67 472.84,173.62 473.54,174.58 C474.23,175.54 474.92,176.51 475.59,177.49 C476.27,178.46 476.93,179.45 477.57,180.44 C478.22,181.44 478.85,182.44 479.47,183.45 C480.09,184.46 480.70,185.48 481.29,186.51 C481.88,187.53 482.46,188.57 483.02,189.61 C483.59,190.65 484.13,191.69 484.67,192.75 C485.20,193.80 485.72,194.86 486.23,195.92 C486.74,196.99 487.23,198.06 487.71,199.14 C488.19,200.22 488.66,201.30 489.11,202.39 C489.56,203.48 490.01,204.57 490.43,205.67 C490.86,206.77 491.28,207.88 491.69,208.99 C492.09,210.10 492.48,211.21 492.87,212.33 C493.25,213.45 493.62,214.58 493.98,215.70 C494.34,216.83 494.69,217.96 495.03,219.10 C495.36,220.24 495.69,221.38 496.01,222.52 C496.33,223.67 496.64,224.81 496.94,225.97 C497.24,227.12 497.53,228.27 497.81,229.43 C498.09,230.59 498.36,231.75 498.63,232.91 C498.89,234.07 499.14,235.24 499.39,236.41 C499.64,237.58 499.88,238.75 500.11,239.92 C500.34,241.09 500.57,242.27 500.79,243.45 C501.00,244.62 501.21,245.80 501.42,246.98 C501.62,248.16 501.82,249.34 502.01,250.53 C502.20,251.71 502.39,252.89 502.57,254.08 C502.75,255.26 502.92,256.45 503.09,257.64 C503.26,258.82 503.43,260.01 503.59,261.20 C503.75,262.38 503.90,263.57 504.05,264.76 C504.21,265.94 504.35,267.13 504.50,268.32 C504.64,269.51 504.78,270.69 504.92,271.88 C505.05,273.06 505.19,274.25 505.32,275.43 C505.45,276.62 505.58,277.80 505.70,278.98 C505.83,280.16 505.95,281.34 506.08,282.52 C506.20,283.70 506.32,284.88 506.44,286.05 C506.56,287.23 506.68,288.40 506.80,289.57 C506.91,290.74 507.03,291.91 507.15,293.08 C507.26,294.24 507.38,295.41 507.50,296.57 C507.61,297.73 507.73,298.89 507.85,300.04 C507.96,301.20 508.14,302.92 508.20,303.50" stroke="#00B050" stroke-width="1.65" fill="none" stroke-linejoin="round"/>
<path d="M44.00,48.00 C44.07,49.33 44.20,53.33 44.40,56.00 C44.60,58.67 44.88,61.83 45.20,64.00 C45.52,66.17 45.95,67.68 46.30,69.00 C46.65,70.32 46.93,70.98 47.30,71.90 C47.67,72.82 48.10,73.78 48.50,74.50 C48.90,75.22 49.23,75.63 49.70,76.20 C50.17,76.77 50.72,77.40 51.30,77.90 C51.88,78.40 52.25,78.77 53.20,79.20 C54.15,79.63 55.53,80.13 57.00,80.50 C58.47,80.87 60.57,81.16 62.00,81.40 C63.43,81.64 64.39,81.76 65.58,81.93 C66.78,82.10 67.97,82.27 69.17,82.43 C70.36,82.59 71.56,82.74 72.76,82.89 C73.95,83.04 75.15,83.19 76.35,83.33 C77.55,83.46 78.75,83.60 79.95,83.73 C81.15,83.86 82.35,83.98 83.55,84.10 C84.75,84.22 85.95,84.34 87.15,84.45 C88.35,84.56 89.55,84.67 90.76,84.77 C91.96,84.88 93.16,84.98 94.36,85.08 C95.57,85.17 96.77,85.27 97.97,85.36 C99.18,85.45 100.38,85.54 101.59,85.62 C102.79,85.71 104.00,85.79 105.20,85.87 C106.41,85.95 107.61,86.02 108.82,86.10 C110.02,86.17 111.23,86.25 112.44,86.32 C113.64,86.39 114.85,86.46 116.05,86.53 C117.26,86.59 118.47,86.66 119.67,86.72 C120.88,86.79 122.09,86.85 123.29,86.91 C124.50,86.98 125.71,87.04 126.91,87.10 C128.12,87.16 129.33,87.22 130.53,87.28 C131.74,87.34 132.94,87.40 134.15,87.46 C135.36,87.52 136.56,87.58 137.77,87.64 C138.98,87.70 140.18,87.77 141.39,87.83 C142.59,87.89 143.80,87.95 145.00,88.01 C146.21,88.08 147.42,88.14 148.62,88.20 C149.83,88.27 151.03,88.33 152.24,88.40 C153.44,88.46 154.65,88.53 155.85,88.59 C157.05,88.66 158.26,88.72 159.46,88.79 C160.67,88.86 161.87,88.92 163.08,88.99 C164.28,89.06 165.49,89.13 166.69,89.20 C167.89,89.27 169.10,89.34 170.30,89.41 C171.50,89.48 172.71,89.55 173.91,89.62 C175.12,89.69 176.32,89.76 177.52,89.84 C178.73,89.91 179.93,89.98 181.13,90.06 C182.34,90.13 183.54,90.20 184.74,90.28 C185.95,90.35 187.15,90.43 188.35,90.50 C189.56,90.58 190.76,90.66 191.96,90.73 C193.17,90.81 194.37,90.89 195.57,90.97 C196.78,91.04 197.98,91.12 199.18,91.20 C200.39,91.28 201.59,91.36 202.79,91.44 C204.00,91.52 205.20,91.60 206.40,91.68 C207.61,91.76 208.81,91.85 210.01,91.93 C211.22,92.01 212.42,92.09 213.62,92.18 C214.83,92.26 216.03,92.35 217.23,92.43 C218.44,92.52 219.64,92.60 220.84,92.69 C222.05,92.77 223.25,92.86 224.46,92.95 C225.66,93.03 226.86,93.12 228.07,93.21 C229.27,93.30 230.48,93.39 231.68,93.48 C232.88,93.56 234.09,93.65 235.29,93.74 C236.50,93.84 237.70,93.93 238.91,94.02 C240.11,94.11 241.32,94.20 242.52,94.29 C243.73,94.39 244.93,94.48 246.14,94.57 C247.34,94.67 248.55,94.76 249.75,94.86 C250.96,94.95 252.16,95.05 253.37,95.14 C254.57,95.24 255.78,95.34 256.99,95.44 C258.19,95.53 259.40,95.63 260.60,95.73 C261.81,95.83 263.02,95.93 264.22,96.03 C265.43,96.13 266.63,96.23 267.84,96.33 C269.05,96.43 270.25,96.53 271.46,96.63 C272.66,96.73 273.87,96.84 275.07,96.94 C276.28,97.04 277.48,97.15 278.69,97.25 C279.90,97.36 281.10,97.46 282.30,97.57 C283.51,97.67 284.71,97.78 285.92,97.89 C287.12,97.99 288.33,98.10 289.53,98.21 C290.73,98.32 291.94,98.43 293.14,98.54 C294.34,98.65 295.54,98.76 296.75,98.87 C297.95,98.98 299.15,99.09 300.35,99.20 C301.55,99.31 302.75,99.43 303.95,99.54 C305.15,99.65 306.35,99.77 307.55,99.88 C308.75,100.00 309.95,100.11 311.15,100.23 C312.34,100.35 313.54,100.46 314.74,100.58 C315.93,100.70 317.13,100.82 318.32,100.94 C319.52,101.06 320.71,101.17 321.91,101.30 C323.10,101.42 324.30,101.54 325.49,101.66 C326.68,101.79 327.87,101.91 329.06,102.04 C330.25,102.17 331.44,102.30 332.63,102.43 C333.82,102.56 335.01,102.70 336.20,102.84 C337.39,102.98 338.58,103.12 339.77,103.27 C340.96,103.42 342.14,103.57 343.33,103.72 C344.52,103.88 345.70,104.04 346.89,104.20 C348.08,104.36 349.26,104.53 350.45,104.70 C351.64,104.87 352.83,105.04 354.02,105.22 C355.21,105.40 356.40,105.58 357.60,105.76 C358.79,105.94 359.98,106.13 361.18,106.31 C362.38,106.50 363.58,106.69 364.78,106.89 C365.98,107.08 367.18,107.28 368.38,107.48 C369.58,107.68 370.78,107.89 371.99,108.10 C373.19,108.31 374.39,108.52 375.59,108.74 C376.80,108.96 378.00,109.19 379.20,109.42 C380.40,109.66 381.60,109.89 382.80,110.14 C384.00,110.39 385.19,110.64 386.39,110.90 C387.58,111.16 388.77,111.43 389.96,111.70 C391.15,111.98 392.34,112.26 393.53,112.55 C394.71,112.84 395.89,113.15 397.07,113.46 C398.24,113.77 399.42,114.09 400.59,114.42 C401.76,114.75 402.92,115.09 404.08,115.44 C405.24,115.79 406.40,116.15 407.55,116.53 C408.70,116.90 409.84,117.29 410.98,117.68 C412.12,118.08 413.25,118.49 414.38,118.91 C415.50,119.33 416.62,119.77 417.74,120.22 C418.85,120.67 419.96,121.13 421.05,121.60 C422.15,122.08 423.24,122.57 424.33,123.07 C425.41,123.58 426.48,124.10 427.55,124.63 C428.61,125.17 429.67,125.72 430.72,126.29 C431.77,126.85 432.81,127.44 433.84,128.04 C434.86,128.64 435.88,129.25 436.89,129.89 C437.90,130.52 438.90,131.17 439.89,131.84 C440.88,132.51 441.85,133.20 442.82,133.90 C443.79,134.61 444.74,135.33 445.69,136.07 C446.63,136.81 447.56,137.56 448.48,138.33 C449.40,139.10 450.31,139.89 451.21,140.69 C452.11,141.49 453.00,142.31 453.87,143.14 C454.75,143.97 455.61,144.81 456.47,145.67 C457.32,146.53 458.16,147.40 458.99,148.28 C459.82,149.16 460.63,150.06 461.44,150.97 C462.24,151.87 463.03,152.79 463.81,153.72 C464.59,154.65 465.36,155.59 466.11,156.54 C466.87,157.49 467.61,158.45 468.34,159.41 C469.07,160.38 469.79,161.36 470.50,162.35 C471.20,163.33 471.89,164.33 472.57,165.33 C473.25,166.33 473.92,167.34 474.57,168.36 C475.23,169.37 475.87,170.40 476.50,171.43 C477.13,172.46 477.75,173.50 478.36,174.55 C478.97,175.59 479.56,176.65 480.15,177.71 C480.73,178.76 481.30,179.83 481.86,180.90 C482.42,181.97 482.97,183.05 483.51,184.13 C484.05,185.21 484.57,186.30 485.09,187.39 C485.60,188.48 486.11,189.58 486.60,190.68 C487.09,191.78 487.58,192.88 488.05,193.99 C488.52,195.10 488.98,196.21 489.43,197.33 C489.88,198.45 490.32,199.57 490.75,200.69 C491.18,201.82 491.60,202.94 492.01,204.07 C492.42,205.21 492.82,206.34 493.22,207.48 C493.61,208.62 493.99,209.76 494.36,210.90 C494.73,212.04 495.09,213.19 495.45,214.34 C495.80,215.49 496.15,216.64 496.48,217.80 C496.82,218.95 497.15,220.11 497.47,221.27 C497.79,222.43 498.10,223.60 498.40,224.76 C498.70,225.93 499.00,227.10 499.29,228.27 C499.57,229.44 499.85,230.61 500.13,231.78 C500.40,232.96 500.66,234.14 500.92,235.31 C501.18,236.49 501.43,237.67 501.67,238.86 C501.92,240.04 502.15,241.22 502.38,242.41 C502.62,243.60 502.84,244.78 503.06,245.97 C503.28,247.16 503.49,248.35 503.69,249.54 C503.90,250.73 504.10,251.93 504.29,253.12 C504.49,254.32 504.68,255.51 504.86,256.71 C505.04,257.90 505.22,259.10 505.39,260.30 C505.57,261.50 505.74,262.70 505.90,263.89 C506.06,265.09 506.22,266.29 506.38,267.49 C506.53,268.70 506.68,269.90 506.83,271.10 C506.97,272.30 507.12,273.50 507.25,274.70 C507.39,275.90 507.53,277.11 507.66,278.31 C507.79,279.51 507.92,280.71 508.04,281.92 C508.16,283.12 508.29,284.32 508.40,285.52 C508.52,286.72 508.64,287.92 508.75,289.12 C508.86,290.32 508.97,291.52 509.08,292.72 C509.19,293.92 509.30,295.12 509.40,296.32 C509.50,297.52 509.60,298.72 509.70,299.91 C509.81,301.11 509.95,302.90 510.00,303.50" stroke="#00B0F0" stroke-width="1.65" fill="none" stroke-linejoin="round"/>
<path d="M44.00,44.00 C44.10,45.33 44.35,49.67 44.60,52.00 C44.85,54.33 45.13,56.25 45.50,58.00 C45.87,59.75 46.35,61.25 46.80,62.50 C47.25,63.75 47.72,64.68 48.20,65.50 C48.68,66.32 49.10,66.85 49.70,67.40 C50.30,67.95 51.03,68.40 51.80,68.80 C52.57,69.20 53.27,69.50 54.30,69.80 C55.33,70.10 56.72,70.38 58.00,70.60 C59.28,70.82 60.71,70.97 62.00,71.11 C63.29,71.24 64.49,71.32 65.73,71.42 C66.98,71.53 68.22,71.63 69.47,71.74 C70.71,71.84 71.96,71.94 73.20,72.04 C74.45,72.14 75.69,72.24 76.94,72.34 C78.18,72.44 79.43,72.54 80.68,72.64 C81.92,72.74 83.17,72.83 84.41,72.93 C85.66,73.03 86.90,73.12 88.15,73.22 C89.40,73.31 90.64,73.40 91.89,73.50 C93.13,73.59 94.38,73.68 95.63,73.77 C96.87,73.86 98.12,73.95 99.37,74.04 C100.61,74.13 101.86,74.22 103.11,74.31 C104.35,74.40 105.60,74.49 106.85,74.57 C108.09,74.66 109.34,74.75 110.59,74.83 C111.84,74.92 113.08,75.00 114.33,75.09 C115.58,75.17 116.82,75.25 118.07,75.34 C119.32,75.42 120.57,75.50 121.81,75.58 C123.06,75.66 124.31,75.75 125.56,75.83 C126.80,75.91 128.05,75.99 129.30,76.07 C130.55,76.15 131.79,76.22 133.04,76.30 C134.29,76.38 135.54,76.46 136.79,76.54 C138.03,76.61 139.28,76.69 140.53,76.77 C141.78,76.84 143.02,76.92 144.27,77.00 C145.52,77.07 146.77,77.15 148.02,77.22 C149.27,77.30 150.51,77.37 151.76,77.44 C153.01,77.52 154.26,77.59 155.51,77.67 C156.75,77.74 158.00,77.81 159.25,77.88 C160.50,77.96 161.75,78.03 163.00,78.10 C164.25,78.17 165.49,78.25 166.74,78.32 C167.99,78.39 169.24,78.46 170.49,78.53 C171.74,78.60 172.98,78.67 174.23,78.74 C175.48,78.81 176.73,78.88 177.98,78.95 C179.23,79.02 180.48,79.09 181.72,79.16 C182.97,79.23 184.22,79.30 185.47,79.37 C186.72,79.44 187.97,79.51 189.22,79.58 C190.46,79.65 191.71,79.72 192.96,79.79 C194.21,79.86 195.46,79.92 196.71,79.99 C197.96,80.06 199.20,80.13 200.45,80.20 C201.70,80.27 202.95,80.34 204.20,80.41 C205.45,80.48 206.69,80.54 207.94,80.61 C209.19,80.68 210.44,80.75 211.69,80.82 C212.94,80.89 214.19,80.96 215.43,81.03 C216.68,81.09 217.93,81.16 219.18,81.23 C220.43,81.30 221.68,81.37 222.92,81.44 C224.17,81.51 225.42,81.58 226.67,81.65 C227.92,81.72 229.16,81.79 230.41,81.86 C231.66,81.93 232.91,82.00 234.16,82.07 C235.40,82.14 236.65,82.21 237.90,82.28 C239.15,82.35 240.40,82.42 241.64,82.49 C242.89,82.57 244.14,82.64 245.39,82.71 C246.63,82.78 247.88,82.85 249.13,82.93 C250.38,83.00 251.63,83.07 252.87,83.14 C254.12,83.22 255.37,83.29 256.62,83.37 C257.86,83.44 259.11,83.51 260.36,83.59 C261.60,83.66 262.85,83.74 264.10,83.81 C265.35,83.89 266.59,83.97 267.84,84.04 C269.09,84.12 270.33,84.20 271.58,84.28 C272.83,84.35 274.07,84.43 275.32,84.51 C276.57,84.59 277.81,84.67 279.06,84.75 C280.31,84.83 281.55,84.92 282.80,85.00 C284.05,85.08 285.29,85.16 286.54,85.25 C287.79,85.33 289.03,85.42 290.28,85.50 C291.52,85.59 292.77,85.68 294.02,85.77 C295.26,85.85 296.51,85.94 297.75,86.03 C299.00,86.12 300.25,86.21 301.49,86.31 C302.74,86.40 303.98,86.49 305.23,86.58 C306.47,86.68 307.72,86.77 308.96,86.87 C310.21,86.97 311.45,87.07 312.70,87.17 C313.94,87.26 315.19,87.36 316.43,87.47 C317.68,87.57 318.92,87.67 320.17,87.78 C321.41,87.88 322.66,87.99 323.90,88.09 C325.15,88.20 326.39,88.31 327.64,88.42 C328.88,88.53 330.13,88.64 331.37,88.75 C332.62,88.87 333.86,88.98 335.10,89.10 C336.35,89.21 337.59,89.33 338.84,89.45 C340.08,89.57 341.32,89.69 342.57,89.82 C343.81,89.94 345.05,90.06 346.30,90.19 C347.54,90.32 348.79,90.44 350.03,90.57 C351.27,90.70 352.52,90.84 353.76,90.97 C355.00,91.10 356.25,91.24 357.49,91.38 C358.73,91.51 359.97,91.65 361.22,91.80 C362.46,91.94 363.70,92.08 364.94,92.23 C366.19,92.37 367.43,92.52 368.67,92.68 C369.91,92.83 371.15,92.98 372.40,93.15 C373.64,93.31 374.88,93.47 376.12,93.64 C377.36,93.81 378.60,93.98 379.83,94.16 C381.07,94.34 382.31,94.53 383.55,94.72 C384.78,94.91 386.02,95.11 387.26,95.31 C388.49,95.52 389.72,95.73 390.96,95.94 C392.19,96.16 393.42,96.39 394.65,96.62 C395.89,96.85 397.12,97.10 398.34,97.35 C399.57,97.60 400.80,97.85 402.03,98.12 C403.25,98.39 404.48,98.67 405.70,98.95 C406.92,99.24 408.14,99.54 409.36,99.85 C410.58,100.16 411.80,100.47 413.02,100.80 C414.23,101.13 415.45,101.47 416.66,101.83 C417.87,102.18 419.07,102.55 420.27,102.93 C421.48,103.31 422.67,103.70 423.87,104.11 C425.06,104.52 426.24,104.94 427.42,105.38 C428.60,105.83 429.77,106.28 430.94,106.75 C432.10,107.23 433.26,107.72 434.41,108.22 C435.55,108.73 436.69,109.26 437.82,109.80 C438.95,110.35 440.06,110.92 441.17,111.50 C442.27,112.09 443.37,112.69 444.45,113.32 C445.54,113.94 446.61,114.59 447.66,115.25 C448.72,115.91 449.77,116.59 450.80,117.30 C451.83,118.00 452.84,118.72 453.84,119.46 C454.85,120.19 455.83,120.95 456.80,121.73 C457.77,122.50 458.73,123.29 459.67,124.10 C460.61,124.92 461.53,125.74 462.43,126.59 C463.34,127.43 464.23,128.30 465.09,129.18 C465.96,130.06 466.81,130.95 467.64,131.87 C468.48,132.78 469.29,133.71 470.08,134.65 C470.87,135.60 471.64,136.56 472.39,137.54 C473.14,138.52 473.87,139.51 474.58,140.52 C475.29,141.53 475.97,142.55 476.63,143.59 C477.30,144.63 477.94,145.68 478.56,146.75 C479.18,147.82 479.77,148.90 480.35,149.99 C480.93,151.08 481.49,152.19 482.03,153.30 C482.58,154.42 483.10,155.55 483.61,156.68 C484.12,157.82 484.61,158.97 485.09,160.12 C485.57,161.28 486.03,162.44 486.48,163.61 C486.93,164.78 487.37,165.96 487.79,167.14 C488.22,168.33 488.63,169.52 489.04,170.71 C489.44,171.91 489.83,173.11 490.22,174.31 C490.60,175.51 490.98,176.72 491.35,177.93 C491.72,179.13 492.08,180.34 492.44,181.56 C492.80,182.77 493.15,183.98 493.50,185.19 C493.84,186.40 494.18,187.62 494.52,188.83 C494.86,190.04 495.19,191.26 495.52,192.47 C495.85,193.69 496.17,194.90 496.49,196.12 C496.80,197.33 497.12,198.55 497.42,199.76 C497.73,200.98 498.03,202.20 498.33,203.41 C498.63,204.63 498.92,205.85 499.21,207.07 C499.50,208.29 499.78,209.51 500.06,210.73 C500.34,211.95 500.61,213.17 500.88,214.39 C501.15,215.61 501.41,216.83 501.67,218.05 C501.92,219.27 502.18,220.50 502.43,221.72 C502.67,222.94 502.92,224.17 503.15,225.39 C503.39,226.62 503.63,227.84 503.85,229.07 C504.08,230.29 504.30,231.52 504.52,232.75 C504.74,233.97 504.95,235.20 505.16,236.43 C505.37,237.66 505.57,238.89 505.77,240.12 C505.97,241.35 506.16,242.58 506.35,243.81 C506.54,245.04 506.72,246.27 506.90,247.51 C507.08,248.74 507.25,249.97 507.42,251.21 C507.59,252.44 507.75,253.68 507.91,254.91 C508.06,256.15 508.22,257.38 508.36,258.62 C508.51,259.86 508.65,261.10 508.79,262.33 C508.93,263.57 509.06,264.81 509.19,266.05 C509.32,267.29 509.44,268.53 509.56,269.77 C509.68,271.02 509.79,272.26 509.90,273.50 C510.00,274.74 510.11,275.99 510.20,277.23 C510.30,278.48 510.39,279.72 510.48,280.97 C510.57,282.22 510.65,283.46 510.73,284.71 C510.80,285.96 510.88,287.21 510.94,288.46 C511.01,289.71 511.07,290.96 511.13,292.21 C511.18,293.46 511.24,294.72 511.28,295.97 C511.33,297.22 511.37,298.48 511.41,299.73 C511.44,300.99 511.49,302.87 511.50,303.50" stroke="#0070C0" stroke-width="1.65" fill="none" stroke-linejoin="round"/>
<path d="M44.00,36.00 C44.08,37.50 44.28,42.67 44.50,45.00 C44.72,47.33 44.97,48.25 45.30,50.00 C45.63,51.75 45.97,53.83 46.50,55.50 C47.03,57.17 47.83,58.87 48.50,60.00 C49.17,61.13 49.72,61.70 50.50,62.30 C51.28,62.90 52.12,63.22 53.20,63.60 C54.28,63.98 55.53,64.32 57.00,64.60 C58.47,64.88 60.52,65.15 62.00,65.31 C63.48,65.47 64.57,65.47 65.86,65.56 C67.14,65.64 68.43,65.73 69.72,65.81 C71.00,65.89 72.29,65.98 73.58,66.06 C74.86,66.14 76.15,66.23 77.44,66.31 C78.72,66.39 80.01,66.47 81.30,66.56 C82.59,66.64 83.87,66.72 85.16,66.80 C86.45,66.88 87.73,66.97 89.02,67.05 C90.31,67.13 91.60,67.21 92.89,67.29 C94.17,67.37 95.46,67.46 96.75,67.54 C98.04,67.62 99.33,67.70 100.61,67.78 C101.90,67.86 103.19,67.94 104.48,68.02 C105.77,68.10 107.06,68.18 108.34,68.26 C109.63,68.34 110.92,68.42 112.21,68.50 C113.50,68.58 114.79,68.66 116.08,68.74 C117.37,68.81 118.65,68.89 119.94,68.97 C121.23,69.05 122.52,69.13 123.81,69.21 C125.10,69.29 126.39,69.36 127.68,69.44 C128.97,69.52 130.26,69.60 131.55,69.67 C132.84,69.75 134.13,69.83 135.42,69.91 C136.71,69.98 137.99,70.06 139.28,70.14 C140.57,70.21 141.86,70.29 143.15,70.36 C144.44,70.44 145.73,70.52 147.02,70.59 C148.31,70.67 149.60,70.74 150.89,70.82 C152.18,70.89 153.47,70.97 154.76,71.04 C156.05,71.12 157.34,71.19 158.63,71.27 C159.92,71.34 161.21,71.42 162.50,71.49 C163.79,71.56 165.08,71.64 166.37,71.71 C167.66,71.78 168.95,71.86 170.24,71.93 C171.54,72.00 172.83,72.08 174.12,72.15 C175.41,72.22 176.70,72.29 177.99,72.37 C179.28,72.44 180.57,72.51 181.86,72.58 C183.15,72.65 184.44,72.73 185.73,72.80 C187.02,72.87 188.31,72.94 189.60,73.01 C190.89,73.08 192.18,73.15 193.47,73.22 C194.76,73.29 196.05,73.36 197.34,73.43 C198.63,73.50 199.92,73.57 201.21,73.64 C202.50,73.71 203.79,73.78 205.08,73.85 C206.37,73.92 207.66,73.98 208.95,74.05 C210.24,74.12 211.53,74.19 212.82,74.26 C214.11,74.32 215.40,74.39 216.69,74.46 C217.98,74.53 219.27,74.59 220.56,74.66 C221.85,74.73 223.14,74.79 224.43,74.86 C225.72,74.93 227.01,74.99 228.30,75.06 C229.59,75.12 230.88,75.19 232.17,75.26 C233.46,75.32 234.75,75.39 236.04,75.45 C237.33,75.52 238.62,75.58 239.91,75.64 C241.20,75.71 242.49,75.77 243.78,75.84 C245.07,75.90 246.35,75.96 247.64,76.03 C248.93,76.09 250.22,76.15 251.51,76.22 C252.80,76.28 254.09,76.34 255.38,76.40 C256.67,76.46 257.96,76.53 259.24,76.59 C260.53,76.65 261.82,76.71 263.11,76.77 C264.40,76.83 265.69,76.89 266.97,76.95 C268.26,77.02 269.55,77.08 270.84,77.14 C272.13,77.20 273.42,77.26 274.70,77.31 C275.99,77.37 277.28,77.43 278.57,77.49 C279.85,77.55 281.14,77.61 282.43,77.67 C283.72,77.73 285.01,77.79 286.29,77.85 C287.58,77.91 288.87,77.97 290.15,78.03 C291.44,78.09 292.73,78.15 294.02,78.22 C295.30,78.28 296.59,78.34 297.88,78.40 C299.16,78.47 300.45,78.53 301.74,78.59 C303.03,78.66 304.31,78.72 305.60,78.79 C306.89,78.85 308.17,78.92 309.46,78.99 C310.75,79.06 312.03,79.13 313.32,79.20 C314.61,79.27 315.89,79.34 317.18,79.41 C318.47,79.48 319.76,79.56 321.04,79.63 C322.33,79.71 323.62,79.79 324.90,79.86 C326.19,79.94 327.48,80.02 328.76,80.10 C330.05,80.19 331.34,80.27 332.62,80.35 C333.91,80.44 335.20,80.53 336.48,80.62 C337.77,80.70 339.06,80.80 340.34,80.89 C341.63,80.98 342.92,81.08 344.20,81.17 C345.49,81.27 346.78,81.37 348.07,81.47 C349.35,81.57 350.64,81.68 351.93,81.79 C353.21,81.89 354.50,82.00 355.79,82.11 C357.07,82.23 358.36,82.34 359.65,82.46 C360.94,82.57 362.22,82.69 363.51,82.82 C364.80,82.94 366.09,83.06 367.37,83.19 C368.66,83.32 369.95,83.45 371.24,83.59 C372.52,83.72 373.81,83.86 375.10,84.00 C376.39,84.14 377.68,84.29 378.96,84.44 C380.25,84.58 381.54,84.73 382.83,84.89 C384.12,85.04 385.40,85.20 386.69,85.36 C387.98,85.53 389.27,85.69 390.55,85.87 C391.84,86.04 393.13,86.22 394.41,86.40 C395.70,86.58 396.98,86.77 398.27,86.96 C399.55,87.15 400.83,87.35 402.12,87.55 C403.40,87.76 404.68,87.97 405.96,88.19 C407.24,88.41 408.51,88.63 409.79,88.86 C411.06,89.09 412.34,89.33 413.61,89.58 C414.88,89.82 416.15,90.08 417.42,90.34 C418.69,90.60 419.95,90.87 421.22,91.15 C422.48,91.43 423.74,91.72 425.00,92.01 C426.26,92.31 427.51,92.62 428.77,92.93 C430.02,93.25 431.27,93.57 432.52,93.91 C433.76,94.24 435.01,94.59 436.25,94.94 C437.49,95.30 438.73,95.66 439.96,96.04 C441.19,96.42 442.42,96.81 443.65,97.21 C444.88,97.61 446.10,98.02 447.32,98.44 C448.54,98.87 449.75,99.30 450.96,99.75 C452.17,100.20 453.38,100.66 454.57,101.14 C455.76,101.62 456.95,102.12 458.11,102.64 C459.28,103.17 460.44,103.71 461.57,104.29 C462.70,104.87 463.82,105.47 464.90,106.11 C465.99,106.75 467.05,107.42 468.08,108.14 C469.12,108.85 470.12,109.60 471.09,110.40 C472.05,111.20 472.98,112.04 473.88,112.92 C474.78,113.80 475.64,114.73 476.48,115.68 C477.31,116.64 478.11,117.64 478.88,118.66 C479.66,119.68 480.40,120.74 481.12,121.81 C481.83,122.89 482.52,124.00 483.19,125.12 C483.85,126.24 484.49,127.39 485.11,128.54 C485.73,129.70 486.32,130.88 486.89,132.06 C487.47,133.24 488.02,134.44 488.56,135.64 C489.09,136.84 489.61,138.04 490.11,139.25 C490.61,140.45 491.09,141.67 491.56,142.88 C492.03,144.10 492.48,145.32 492.92,146.54 C493.35,147.77 493.77,148.99 494.18,150.23 C494.59,151.46 494.98,152.69 495.36,153.93 C495.74,155.17 496.11,156.41 496.47,157.65 C496.82,158.89 497.17,160.14 497.50,161.39 C497.83,162.64 498.16,163.89 498.47,165.14 C498.78,166.40 499.08,167.65 499.38,168.91 C499.67,170.17 499.96,171.43 500.24,172.69 C500.52,173.95 500.79,175.21 501.05,176.47 C501.32,177.74 501.57,179.00 501.83,180.27 C502.08,181.54 502.33,182.80 502.57,184.07 C502.81,185.34 503.05,186.61 503.28,187.88 C503.51,189.15 503.74,190.42 503.96,191.69 C504.19,192.96 504.40,194.23 504.62,195.50 C504.83,196.77 505.04,198.05 505.24,199.32 C505.45,200.60 505.65,201.87 505.84,203.15 C506.03,204.42 506.22,205.70 506.41,206.97 C506.60,208.25 506.78,209.53 506.95,210.80 C507.13,212.08 507.30,213.36 507.47,214.64 C507.64,215.92 507.80,217.20 507.96,218.48 C508.12,219.76 508.27,221.04 508.43,222.32 C508.58,223.60 508.72,224.88 508.87,226.17 C509.01,227.45 509.15,228.73 509.28,230.01 C509.41,231.30 509.54,232.58 509.67,233.87 C509.80,235.15 509.92,236.43 510.04,237.72 C510.15,239.01 510.27,240.29 510.38,241.58 C510.49,242.86 510.60,244.15 510.70,245.44 C510.80,246.72 510.90,248.01 510.99,249.30 C511.09,250.58 511.18,251.87 511.27,253.16 C511.36,254.45 511.44,255.74 511.52,257.03 C511.60,258.31 511.68,259.60 511.75,260.89 C511.83,262.18 511.90,263.47 511.96,264.76 C512.03,266.05 512.09,267.34 512.15,268.63 C512.21,269.92 512.27,271.21 512.32,272.50 C512.37,273.79 512.42,275.08 512.47,276.38 C512.52,277.67 512.56,278.96 512.60,280.25 C512.64,281.54 512.68,282.83 512.71,284.12 C512.75,285.41 512.78,286.71 512.80,288.00 C512.83,289.29 512.86,290.58 512.88,291.87 C512.90,293.16 512.92,294.46 512.94,295.75 C512.95,297.04 512.97,298.33 512.98,299.62 C512.99,300.92 513.00,302.85 513.00,303.50" stroke="#7030A0" stroke-width="1.65" fill="none" stroke-linejoin="round"/>
<text class="l" x="35.3" y="306.80" font-size="9.4" text-anchor="end" textLength="10.8" lengthAdjust="spacingAndGlyphs">2.0</text>
<text class="l" x="35.3" y="288.43" font-size="9.4" text-anchor="end" textLength="10.8" lengthAdjust="spacingAndGlyphs">2.1</text>
<text class="l" x="35.3" y="270.05" font-size="9.4" text-anchor="end" textLength="10.8" lengthAdjust="spacingAndGlyphs">2.2</text>
<text class="l" x="35.3" y="251.68" font-size="9.4" text-anchor="end" textLength="10.8" lengthAdjust="spacingAndGlyphs">2.3</text>
<text class="l" x="35.3" y="233.30" font-size="9.4" text-anchor="end" textLength="10.8" lengthAdjust="spacingAndGlyphs">2.4</text>
<text class="l" x="35.3" y="214.93" font-size="9.4" text-anchor="end" textLength="10.8" lengthAdjust="spacingAndGlyphs">2.5</text>
<text class="l" x="35.3" y="196.55" font-size="9.4" text-anchor="end" textLength="10.8" lengthAdjust="spacingAndGlyphs">2.6</text>
<text class="l" x="35.3" y="178.17" font-size="9.4" text-anchor="end" textLength="10.8" lengthAdjust="spacingAndGlyphs">2.7</text>
<text class="l" x="35.3" y="159.80" font-size="9.4" text-anchor="end" textLength="10.8" lengthAdjust="spacingAndGlyphs">2.8</text>
<text class="l" x="35.3" y="141.43" font-size="9.4" text-anchor="end" textLength="10.8" lengthAdjust="spacingAndGlyphs">2.9</text>
<text class="l" x="35.3" y="123.05" font-size="9.4" text-anchor="end" textLength="10.8" lengthAdjust="spacingAndGlyphs">3.0</text>
<text class="l" x="35.3" y="104.67" font-size="9.4" text-anchor="end" textLength="10.8" lengthAdjust="spacingAndGlyphs">3.1</text>
<text class="l" x="35.3" y="86.30" font-size="9.4" text-anchor="end" textLength="10.8" lengthAdjust="spacingAndGlyphs">3.2</text>
<text class="l" x="35.3" y="67.93" font-size="9.4" text-anchor="end" textLength="10.8" lengthAdjust="spacingAndGlyphs">3.3</text>
<text class="l" x="35.3" y="49.55" font-size="9.4" text-anchor="end" textLength="10.8" lengthAdjust="spacingAndGlyphs">3.4</text>
<text class="l" x="35.3" y="31.18" font-size="9.4" text-anchor="end" textLength="10.8" lengthAdjust="spacingAndGlyphs">3.5</text>
<text class="l" x="35.3" y="12.80" font-size="9.4" text-anchor="end" textLength="10.8" lengthAdjust="spacingAndGlyphs">3.6</text>
<text class="l" x="43.80" y="320" font-size="9.4" text-anchor="middle" textLength="11" lengthAdjust="spacingAndGlyphs">0.0</text>
<text class="l" x="62.13" y="320" font-size="9.4" text-anchor="middle" textLength="11" lengthAdjust="spacingAndGlyphs">0.1</text>
<text class="l" x="80.47" y="320" font-size="9.4" text-anchor="middle" textLength="11" lengthAdjust="spacingAndGlyphs">0.2</text>
<text class="l" x="98.80" y="320" font-size="9.4" text-anchor="middle" textLength="11" lengthAdjust="spacingAndGlyphs">0.3</text>
<text class="l" x="117.13" y="320" font-size="9.4" text-anchor="middle" textLength="11" lengthAdjust="spacingAndGlyphs">0.4</text>
<text class="l" x="135.47" y="320" font-size="9.4" text-anchor="middle" textLength="11" lengthAdjust="spacingAndGlyphs">0.5</text>
<text class="l" x="153.80" y="320" font-size="9.4" text-anchor="middle" textLength="11" lengthAdjust="spacingAndGlyphs">0.6</text>
<text class="l" x="172.13" y="320" font-size="9.4" text-anchor="middle" textLength="11" lengthAdjust="spacingAndGlyphs">0.7</text>
<text class="l" x="190.47" y="320" font-size="9.4" text-anchor="middle" textLength="11" lengthAdjust="spacingAndGlyphs">0.8</text>
<text class="l" x="208.80" y="320" font-size="9.4" text-anchor="middle" textLength="11" lengthAdjust="spacingAndGlyphs">0.9</text>
<text class="l" x="227.13" y="320" font-size="9.4" text-anchor="middle" textLength="11" lengthAdjust="spacingAndGlyphs">1.0</text>
<text class="l" x="245.47" y="320" font-size="9.4" text-anchor="middle" textLength="11" lengthAdjust="spacingAndGlyphs">1.1</text>
<text class="l" x="263.80" y="320" font-size="9.4" text-anchor="middle" textLength="11" lengthAdjust="spacingAndGlyphs">1.2</text>
<text class="l" x="282.13" y="320" font-size="9.4" text-anchor="middle" textLength="11" lengthAdjust="spacingAndGlyphs">1.3</text>
<text class="l" x="300.47" y="320" font-size="9.4" text-anchor="middle" textLength="11" lengthAdjust="spacingAndGlyphs">1.4</text>
<text class="l" x="318.80" y="320" font-size="9.4" text-anchor="middle" textLength="11" lengthAdjust="spacingAndGlyphs">1.5</text>
<text class="l" x="337.13" y="320" font-size="9.4" text-anchor="middle" textLength="11" lengthAdjust="spacingAndGlyphs">1.6</text>
<text class="l" x="355.47" y="320" font-size="9.4" text-anchor="middle" textLength="11" lengthAdjust="spacingAndGlyphs">1.7</text>
<text class="l" x="373.80" y="320" font-size="9.4" text-anchor="middle" textLength="11" lengthAdjust="spacingAndGlyphs">1.8</text>
<text class="l" x="392.13" y="320" font-size="9.4" text-anchor="middle" textLength="11" lengthAdjust="spacingAndGlyphs">1.9</text>
<text class="l" x="410.47" y="320" font-size="9.4" text-anchor="middle" textLength="11" lengthAdjust="spacingAndGlyphs">2.0</text>
<text class="l" x="428.80" y="320" font-size="9.4" text-anchor="middle" textLength="11" lengthAdjust="spacingAndGlyphs">2.1</text>
<text class="l" x="447.13" y="320" font-size="9.4" text-anchor="middle" textLength="11" lengthAdjust="spacingAndGlyphs">2.2</text>
<text class="l" x="465.47" y="320" font-size="9.4" text-anchor="middle" textLength="11" lengthAdjust="spacingAndGlyphs">2.3</text>
<text class="l" x="483.80" y="320" font-size="9.4" text-anchor="middle" textLength="11" lengthAdjust="spacingAndGlyphs">2.4</text>
<text class="l" x="502.13" y="320" font-size="9.4" text-anchor="middle" textLength="11" lengthAdjust="spacingAndGlyphs">2.5</text>
<text class="l" x="520.47" y="320" font-size="9.4" text-anchor="middle" textLength="11" lengthAdjust="spacingAndGlyphs">2.6</text>
<text class="l" x="538.80" y="320" font-size="9.4" text-anchor="middle" textLength="11" lengthAdjust="spacingAndGlyphs">2.7</text>
<text class="b" x="291.3" y="336.6" font-size="11" font-weight="bold" text-anchor="middle" textLength="66" lengthAdjust="spacingAndGlyphs">Discharge (Ah)</text>
<text class="b" transform="translate(11.9,149) rotate(-90)" x="0" y="0" font-size="11" font-weight="bold" text-anchor="middle" textLength="55.5" lengthAdjust="spacingAndGlyphs">Voltage (V)</text>
<rect x="65.50" y="198.00" width="181.90" height="91.20" fill="#fff" stroke="#404040" stroke-width="1"/>
<path d="M79.70,205.20H97.90" stroke="#CC0000" stroke-width="1.9"/>
<text class="l" x="99.60" y="208.30" font-size="9.8" textLength="44.0" lengthAdjust="spacingAndGlyphs">20C Voltage</text>
<path d="M170.50,205.20H188.70" stroke="#ED7D31" stroke-width="1.9"/>
<text class="l" x="190.50" y="208.30" font-size="9.8" textLength="44.0" lengthAdjust="spacingAndGlyphs">18C Voltage</text>
<path d="M79.70,220.60H97.90" stroke="#FFC000" stroke-width="1.9"/>
<text class="l" x="99.60" y="223.70" font-size="9.8" textLength="44.0" lengthAdjust="spacingAndGlyphs">16C Voltage</text>
<path d="M170.50,220.60H188.70" stroke="#FCD68E" stroke-width="1.9"/>
<text class="l" x="190.50" y="223.70" font-size="9.8" textLength="44.0" lengthAdjust="spacingAndGlyphs">14C Voltage</text>
<path d="M79.70,235.90H97.90" stroke="#FFFF00" stroke-width="1.9"/>
<text class="l" x="99.60" y="239.00" font-size="9.8" textLength="44.0" lengthAdjust="spacingAndGlyphs">12C Voltage</text>
<path d="M170.50,235.90H188.70" stroke="#C4DFB0" stroke-width="1.9"/>
<text class="l" x="190.50" y="239.00" font-size="9.8" textLength="44.0" lengthAdjust="spacingAndGlyphs">10C Voltage</text>
<path d="M79.70,251.20H97.90" stroke="#92D050" stroke-width="1.9"/>
<text class="l" x="99.60" y="254.30" font-size="9.8" textLength="39.8" lengthAdjust="spacingAndGlyphs">8C Voltage</text>
<path d="M170.50,251.20H188.70" stroke="#00B050" stroke-width="1.9"/>
<text class="l" x="190.50" y="254.30" font-size="9.8" textLength="39.8" lengthAdjust="spacingAndGlyphs">6C Voltage</text>
<path d="M79.70,266.50H97.90" stroke="#00B0F0" stroke-width="1.9"/>
<text class="l" x="99.60" y="269.60" font-size="9.8" textLength="39.8" lengthAdjust="spacingAndGlyphs">4C Voltage</text>
<path d="M170.50,266.50H188.70" stroke="#0070C0" stroke-width="1.9"/>
<text class="l" x="190.50" y="269.60" font-size="9.8" textLength="39.8" lengthAdjust="spacingAndGlyphs">2C Voltage</text>
<path d="M79.70,281.80H97.90" stroke="#7030A0" stroke-width="1.9"/>
<text class="l" x="99.60" y="284.90" font-size="9.8" textLength="39.8" lengthAdjust="spacingAndGlyphs">1C Voltage</text>
</svg></body></html>
